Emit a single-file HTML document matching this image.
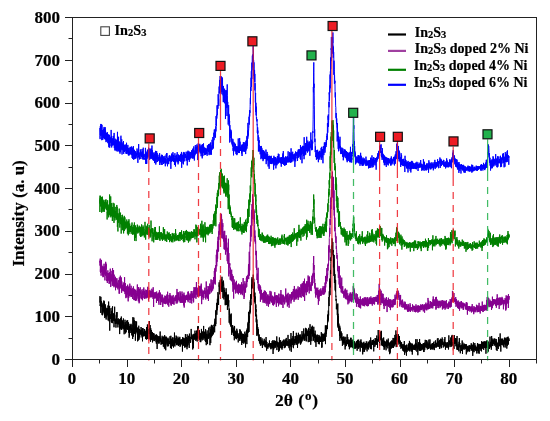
<!DOCTYPE html>
<html><head><meta charset="utf-8"><style>
html,body{margin:0;padding:0;background:#fff;width:550px;height:421px;overflow:hidden}
svg{display:block}
text{font-family:"Liberation Serif","Times New Roman",serif;font-weight:bold;fill:#000;stroke:#000;stroke-width:0.2px}
</style></head><body>
<svg width="550" height="421" viewBox="0 0 550 421">
<rect width="550" height="421" fill="#fff"/>
<g id="curves">
<path transform="matrix(0.10918 0 0 -0.21375 99.795 359.5)" d="M0 266l1 30 1 -4 1 -40 1 4 1 -6 1 24 1 -15 1 17 1 -58 1 75 1 -41 1 20 1 -20 1 -6 1 18 1 8 1 -24 1 0 1 18 1 -36 1 -21 1 48 1 -24 1 -26 1 21 1 7 1 -17 1 -7 1 33 1 18 1 -26 1 -12 1 24 1 7 1 -23 1 17 1 27 1 -44 1 -14 1 24 1 -3 1 33 1 -67 1 13 1 -5 1 -19 1 39 1 8 1 -28 1 45 1 -12 1 -5 1 -6 1 12 1 -49 1 40 1 0 1 -51 1 44 1 -13 1 21 1 -26 1 8 1 7 1 -26 1 31 1 -15 1 12 1 -22 1 33 1 -10 1 -17 1 16 1 13 1 10 1 -70 1 51 1 2 1 -24 1 -19 1 78 1 -84 1 51 1 1 1 -60 1 26 1 -21 1 31 1 26 1 10 1 -116 1 48 1 40 1 17 1 -24 1 -24 1 21 1 -7 1 -5 1 -11 1 23 1 -2 1 -9 1 -3 1 -22 1 16 1 33 1 -28 1 -26 1 56 1 -17 1 31 1 -41 1 -11 1 -20 1 55 1 24 1 -68 1 3 1 25 1 -29 1 11 1 -2 1 10 1 17 1 -21 1 17 1 -27 1 15 1 -49 1 13 1 43 1 -27 1 22 1 -1 1 46 1 -41 1 3 1 -22 1 -12 1 -1 1 4 1 -12 1 11 1 8 1 6 1 -12 1 -30 1 35 1 5 1 16 1 -10 1 -24 1 -2 1 52 1 -24 1 20 1 5 1 -56 1 22 1 1 1 2 1 -1 1 -7 1 -1 1 -32 1 25 1 -11 1 16 1 -11 1 20 1 3 1 -3 1 -7 1 -3 1 -12 1 5 1 -7 1 16 1 -7 1 10 1 -65 1 70 1 -31 1 -16 1 26 1 -7 1 15 1 -16 1 -9 1 3 1 40 1 -24 1 -23 1 22 1 -29 1 61 1 -61 1 36 1 1 1 -37 1 38 1 6 1 -10 1 -4 1 12 1 -15 1 3 1 -9 1 14 1 -29 1 31 1 -24 1 -11 1 26 1 24 1 -14 1 -27 1 22 1 -21 1 5 1 4 1 -43 1 44 1 -22 1 6 1 -14 1 -1 1 9 1 31 1 15 1 -30 1 19 1 -24 1 -29 1 36 1 4 1 -15 1 12 1 5 1 -26 1 -11 1 22 1 0 1 -3 1 23 1 13 1 -38 1 19 1 4 1 -4 1 5 1 -25 1 19 1 22 1 -21 1 -25 1 21 1 11 1 -16 1 -16 1 36 1 -48 1 29 1 -9 1 -20 1 41 1 -15 1 -50 1 53 1 -17 1 -26 1 21 1 16 1 6 1 -8 1 -3 1 7 1 -12 1 24 1 -18 1 2 1 4 1 -27 1 6 1 37 1 -20 1 -11 1 11 1 -14 1 12 1 -16 1 16 1 -32 1 49 1 -31 1 -18 1 22 1 -2 1 8 1 -45 1 49 1 53 1 -81 1 26 1 -11 1 8 1 -33 1 11 1 26 1 -8 1 60 1 -72 1 15 1 45 1 -61 1 -3 1 15 1 -1 1 15 1 -12 1 -15 1 16 1 39 1 3 1 -92 1 43 1 -12 1 37 1 -26 1 34 1 -16 1 -1 1 -12 1 -4 1 6 1 41 1 -38 1 -14 1 26 1 -18 1 -4 1 -12 1 3 1 -1 1 -35 1 61 1 -7 1 -13 1 20 1 -10 1 -1 1 -46 1 36 1 12 1 17 1 4 1 -7 1 -42 1 -16 1 44 1 -9 1 15 1 -18 1 5 1 -27 1 31 1 -15 1 13 1 1 1 -9 1 7 1 -6 1 12 1 -4 1 -17 1 -1 1 37 1 -29 1 17 1 -10 1 -15 1 -3 1 13 1 2 1 6 1 -30 1 10 1 8 1 26 1 -62 1 44 1 -16 1 15 1 -14 1 20 1 12 1 -19 1 1 1 -1 1 -18 1 20 1 -12 1 -9 1 11 1 -3 1 15 1 -12 1 -8 1 31 1 -8 1 5 1 -11 1 -11 1 -5 1 2 1 19 1 -13 1 -24 1 22 1 -21 1 24 1 -21 1 -1 1 21 1 -3 1 -24 1 51 1 8 1 -56 1 51 1 -39 1 4 1 5 1 -20 1 67 1 -36 1 -20 1 8 1 -19 1 18 1 21 1 -41 1 20 1 9 1 14 1 5 1 -28 1 -4 1 19 1 -12 1 1 1 22 1 39 1 -52 1 -7 1 12 1 -39 1 29 1 -16 1 54 1 -27 1 -7 1 -8 1 -36 1 49 1 14 1 -51 1 35 1 0 1 -35 1 37 1 6 1 -18 1 -5 1 12 1 -36 1 24 1 14 1 -35 1 33 1 -22 1 -25 1 29 1 -14 1 19 1 -23 1 32 1 -26 1 15 1 -14 1 3 1 22 1 -11 1 -13 1 -13 1 35 1 -7 1 -16 1 8 1 -18 1 0 1 2 1 16 1 -1 1 -15 1 21 1 0 1 -9 1 12 1 -19 1 3 1 8 1 -8 1 12 1 -29 1 37 1 -44 1 21 1 -17 1 28 1 9 1 -3 1 -4 1 -59 1 36 1 5 1 -7 1 28 1 -13 1 -3 1 7 1 -20 1 0 1 0 1 19 1 -2 1 3 1 7 1 -34 1 11 1 9 1 -20 1 11 1 21 1 1 1 -1 1 -14 1 -4 1 18 1 -20 1 9 1 35 1 -45 1 -3 1 8 1 8 1 -2 1 -4 1 5 1 -29 1 10 1 13 1 -15 1 -5 1 1 1 4 1 10 1 -12 1 17 1 19 1 -25 1 19 1 -13 1 -19 1 11 1 -10 1 23 1 -25 1 32 1 0 1 -44 1 37 1 10 1 -31 1 23 1 -37 1 27 1 -25 1 28 1 -30 1 -11 1 39 1 24 1 -37 1 18 1 -9 1 -6 1 21 1 4 1 -57 1 43 1 -3 1 -45 1 61 1 4 1 -38 1 35 1 -22 1 -3 1 22 1 -17 1 1 1 15 1 -3 1 -5 1 -29 1 -3 1 35 1 -27 1 14 1 -16 1 9 1 -11 1 37 1 -34 1 11 1 -1 1 18 1 -34 1 18 1 -2 1 9 1 -1 1 -12 1 9 1 -8 1 11 1 -7 1 -7 1 8 1 5 1 24 1 -35 1 10 1 15 1 -45 1 4 1 7 1 14 1 32 1 -26 1 10 1 -18 1 -28 1 2 1 42 1 -11 1 -18 1 30 1 -33 1 34 1 4 1 -29 1 -4 1 25 1 -25 1 38 1 -39 1 25 1 -9 1 -6 1 -6 1 14 1 -27 1 21 1 -2 1 14 1 -24 1 37 1 -30 1 -6 1 32 1 28 1 -48 1 -9 1 12 1 -20 1 16 1 23 1 -14 1 -1 1 0 1 -5 1 11 1 1 1 -16 1 6 1 30 1 -26 1 -7 1 28 1 -26 1 -14 1 23 1 -20 1 5 1 10 1 -5 1 -9 1 3 1 0 1 22 1 -24 1 2 1 33 1 -41 1 34 1 -2 1 -18 1 -17 1 24 1 3 1 4 1 -11 1 14 1 2 1 -31 1 32 1 -16 1 -9 1 3 1 28 1 -11 1 -36 1 24 1 -3 1 0 1 -4 1 -12 1 29 1 -23 1 8 1 -3 1 -2 1 19 1 -4 1 -14 1 -3 1 6 1 18 1 -10 1 5 1 -11 1 1 1 6 1 -49 1 67 1 -31 1 3 1 25 1 -14 1 -2 1 -8 1 -13 1 23 1 13 1 -27 1 29 1 -32 1 5 1 25 1 -15 1 9 1 -18 1 -4 1 -11 1 9 1 -15 1 12 1 23 1 -12 1 -18 1 59 1 -43 1 -6 1 33 1 -1 1 -30 1 -4 1 -10 1 45 1 -19 1 -7 1 11 1 16 1 -34 1 13 1 -35 1 70 1 -5 1 -11 1 -15 1 11 1 -37 1 32 1 -21 1 0 1 -3 1 11 1 18 1 13 1 -17 1 -16 1 22 1 -11 1 18 1 -28 1 -25 1 31 1 36 1 -23 1 -9 1 15 1 -5 1 -1 1 -13 1 8 1 2 1 -11 1 -6 1 17 1 11 1 -4 1 -2 1 0 1 43 1 -46 1 11 1 13 1 -26 1 3 1 11 1 9 1 -18 1 0 1 -3 1 -18 1 33 1 -19 1 -46 1 48 1 -22 1 10 1 15 1 -13 1 28 1 -60 1 50 1 4 1 13 1 -7 1 -9 1 -2 1 -2 1 18 1 -25 1 17 1 -8 1 5 1 -7 1 35 1 -39 1 13 1 1 1 6 1 -2 1 0 1 9 1 -36 1 23 1 -18 1 22 1 -20 1 4 1 14 1 22 1 -11 1 -4 1 17 1 -35 1 -17 1 26 1 3 1 23 1 14 1 -52 1 58 1 -13 1 -11 1 -8 1 32 1 -34 1 -11 1 10 1 -23 1 37 1 -18 1 6 1 0 1 -22 1 36 1 -36 1 29 1 -38 1 30 1 -19 1 14 1 -24 1 -11 1 15 1 18 1 8 1 -32 1 -10 1 19 1 9 1 -6 1 -3 1 24 1 19 1 -21 1 -25 1 15 1 -4 1 -19 1 34 1 -11 1 -9 1 28 1 -10 1 1 1 6 1 -8 1 -29 1 13 1 20 1 -26 1 12 1 5 1 42 1 -28 1 -6 1 -16 1 16 1 -6 1 -10 1 23 1 -13 1 -18 1 30 1 -23 1 13 1 -31 1 22 1 -14 1 0 1 -14 1 60 1 -34 1 6 1 13 1 -18 1 10 1 -52 1 47 1 -16 1 21 1 -5 1 -23 1 -7 1 13 1 39 1 -18 1 0 1 -36 1 -10 1 31 1 -1 1 2 1 14 1 -7 1 -15 1 4 1 16 1 -1 1 -2 1 36 1 -38 1 6 1 -17 1 10 1 14 1 1 1 -11 1 9 1 -5 1 -30 1 -21 1 87 1 -23 1 -13 1 -26 1 8 1 41 1 -64 1 39 1 19 1 -11 1 11 1 -14 1 41 1 -53 1 -5 1 27 1 19 1 -23 1 19 1 -25 1 -10 1 43 1 4 1 1 1 -31 1 -11 1 1 1 17 1 15 1 0 1 -32 1 30 1 -2 1 3 1 0 1 -1 1 15 1 -6 1 4 1 -14 1 21 1 -7 1 -34 1 50 1 -11 1 25 1 -18 1 4 1 9 1 -2 1 -5 1 -23 1 74 1 -64 1 28 1 23 1 -2 1 8 1 8 1 14 1 -16 1 36 1 -56 1 30 1 -8 1 0 1 22 1 31 1 -45 1 4 1 38 1 0 1 34 1 -14 1 -14 1 -9 1 17 1 -5 1 -35 1 48 1 0 1 2 1 -1 1 57 1 -21 1 10 1 -36 1 -8 1 22 1 17 1 -13 1 7 1 32 1 -15 1 -32 1 16 1 -5 1 29 1 -41 1 27 1 24 1 -18 1 -25 1 8 1 19 1 9 1 8 1 -27 1 -32 1 71 1 -31 1 1 1 -4 1 -37 1 17 1 13 1 18 1 -25 1 -52 1 38 1 13 1 22 1 -17 1 26 1 -11 1 -4 1 -12 1 -61 1 55 1 -8 1 -30 1 27 1 -6 1 -23 1 7 1 -4 1 11 1 -17 1 23 1 -62 1 39 1 -35 1 29 1 23 1 -12 1 -4 1 3 1 36 1 -66 1 47 1 -59 1 24 1 14 1 -26 1 24 1 11 1 -47 1 24 1 -9 1 -38 1 39 1 -17 1 47 1 -54 1 57 1 -54 1 53 1 -35 1 -5 1 4 1 -1 1 8 1 3 1 -49 1 -22 1 -34 1 45 1 21 1 -11 1 -9 1 -13 1 -9 1 4 1 10 1 -46 1 46 1 -46 1 22 1 -12 1 3 1 -16 1 -5 1 15 1 -19 1 63 1 -55 1 -21 1 14 1 -12 1 -26 1 37 1 8 1 -34 1 24 1 -22 1 17 1 6 1 10 1 -12 1 -21 1 26 1 -24 1 12 1 4 1 -17 1 -17 1 29 1 -29 1 3 1 -4 1 30 1 -17 1 -34 1 47 1 20 1 -5 1 -38 1 9 1 6 1 6 1 -14 1 -18 1 28 1 -3 1 -30 1 14 1 9 1 -4 1 8 1 3 1 -4 1 -10 1 -19 1 29 1 12 1 8 1 -31 1 0 1 22 1 0 1 -11 1 -1 1 -22 1 20 1 -21 1 10 1 0 1 -5 1 -25 1 19 1 17 1 -6 1 -5 1 12 1 4 1 2 1 -25 1 13 1 -6 1 -8 1 -9 1 21 1 -12 1 45 1 -34 1 -2 1 -2 1 33 1 -42 1 12 1 -9 1 9 1 1 1 16 1 -37 1 20 1 24 1 -32 1 5 1 -11 1 -25 1 36 1 18 1 -24 1 -20 1 30 1 -2 1 12 1 -1 1 -17 1 10 1 -32 1 42 1 -14 1 13 1 0 1 -19 1 2 1 -11 1 -17 1 28 1 5 1 -18 1 26 1 -9 1 6 1 -32 1 0 1 50 1 -15 1 -10 1 -4 1 -3 1 8 1 -5 1 -45 1 65 1 -33 1 18 1 1 1 10 1 -28 1 44 1 -7 1 3 1 9 1 -46 1 -20 1 56 1 17 1 0 1 -26 1 10 1 8 1 -32 1 21 1 3 1 40 1 -35 1 42 1 -24 1 -26 1 97 1 -78 1 33 1 25 1 -50 1 -24 1 76 1 -14 1 -20 1 8 1 19 1 34 1 -20 1 42 1 12 1 -2 1 11 1 3 1 -58 1 85 1 -26 1 -8 1 -12 1 -5 1 1 1 51 1 -22 1 15 1 12 1 39 1 -19 1 9 1 45 1 -39 1 29 1 -41 1 41 1 -4 1 4 1 -16 1 -15 1 19 1 -5 1 39 1 -6 1 -60 1 46 1 -34 1 35 1 -44 1 -40 1 67 1 -21 1 -49 1 -21 1 24 1 -23 1 13 1 16 1 13 1 -51 1 33 1 -13 1 -43 1 -37 1 51 1 -13 1 18 1 -15 1 -20 1 12 1 -61 1 19 1 -15 1 32 1 -27 1 -72 1 76 1 -46 1 25 1 -26 1 9 1 2 1 -11 1 -23 1 35 1 -19 1 -10 1 8 1 -22 1 34 1 -27 1 -1 1 -2 1 -21 1 -5 1 18 1 0 1 12 1 -14 1 -23 1 21 1 3 1 1 1 -11 1 -21 1 30 1 -26 1 16 1 -28 1 29 1 -21 1 24 1 8 1 -8 1 -31 1 3 1 0 1 19 1 -4 1 -3 1 2 1 3 1 0 1 13 1 -22 1 3 1 -26 1 7 1 7 1 -6 1 17 1 10 1 -18 1 -1 1 0 1 7 1 -8 1 12 1 -2 1 1 1 5 1 -9 1 1 1 20 1 -23 1 11 1 -10 1 -6 1 0 1 -5 1 10 1 -16 1 11 1 20 1 -17 1 15 1 -7 1 4 1 -27 1 18 1 30 1 -22 1 2 1 -10 1 8 1 -42 1 21 1 15 1 5 1 -15 1 2 1 -2 1 -1 1 -9 1 -3 1 16 1 -20 1 9 1 4 1 -5 1 15 1 -8 1 5 1 -12 1 3 1 15 1 -2 1 -10 1 10 1 -2 1 0 1 17 1 -24 1 9 1 0 1 -7 1 -11 1 21 1 -5 1 -2 1 -1 1 0 1 -11 1 18 1 -28 1 20 1 -17 1 13 1 13 1 -12 1 -2 1 11 1 -9 1 -8 1 7 1 22 1 -10 1 -2 1 -20 1 21 1 -22 1 20 1 -18 1 36 1 -65 1 56 1 -5 1 -30 1 18 1 19 1 -3 1 -33 1 13 1 -7 1 1 1 5 1 29 1 -20 1 -4 1 -2 1 12 1 0 1 -18 1 27 1 -29 1 9 1 8 1 15 1 -24 1 8 1 11 1 -7 1 5 1 -1 1 -9 1 5 1 3 1 -11 1 41 1 -64 1 13 1 27 1 -11 1 -13 1 12 1 8 1 -19 1 16 1 -11 1 -2 1 3 1 14 1 -26 1 9 1 12 1 -40 1 14 1 25 1 -7 1 -1 1 4 1 -14 1 46 1 -61 1 22 1 -12 1 12 1 23 1 -18 1 7 1 -12 1 27 1 -18 1 -18 1 24 1 -14 1 12 1 -4 1 0 1 -1 1 -13 1 -7 1 30 1 -13 1 5 1 -9 1 -19 1 9 1 33 1 -26 1 4 1 -12 1 11 1 2 1 2 1 2 1 -7 1 1 1 7 1 4 1 -6 1 23 1 -18 1 1 1 -12 1 21 1 -25 1 -7 1 8 1 19 1 -21 1 30 1 -16 1 -18 1 16 1 24 1 -32 1 -5 1 22 1 10 1 -4 1 -16 1 7 1 1 1 11 1 12 1 -28 1 18 1 -20 1 11 1 -18 1 2 1 15 1 -16 1 22 1 -18 1 8 1 -2 1 -3 1 6 1 12 1 25 1 -53 1 19 1 -10 1 -5 1 15 1 -14 1 10 1 17 1 -41 1 28 1 3 1 -17 1 18 1 -2 1 -8 1 20 1 -53 1 46 1 -11 1 -11 1 12 1 -2 1 15 1 -30 1 17 1 -11 1 57 1 -57 1 28 1 -59 1 50 1 -6 1 7 1 -14 1 -16 1 6 1 37 1 -14 1 -14 1 23 1 -21 1 0 1 -6 1 31 1 11 1 -38 1 16 1 9 1 36 1 -80 1 34 1 15 1 -36 1 25 1 -3 1 7 1 -17 1 14 1 -14 1 17 1 -6 1 -7 1 -14 1 41 1 -7 1 -3 1 -20 1 -3 1 34 1 -12 1 -21 1 12 1 2 1 -5 1 -9 1 48 1 -27 1 -11 1 -18 1 13 1 8 1 25 1 -29 1 20 1 -13 1 -12 1 -27 1 22 1 -4 1 18 1 7 1 15 1 -19 1 -16 1 48 1 -27 1 -8 1 0 1 -15 1 28 1 -3 1 17 1 -7 1 -3 1 6 1 -22 1 -2 1 4 1 -14 1 15 1 -2 1 14 1 -9 1 -27 1 27 1 20 1 -45 1 15 1 11 1 -18 1 11 1 9 1 -20 1 24 1 1 1 -23 1 18 1 33 1 -35 1 9 1 3 1 -12 1 18 1 -9 1 -19 1 22 1 5 1 -1 1 -20 1 16 1 13 1 -16 1 14 1 24 1 -41 1 10 1 -13 1 20 1 -17 1 -16 1 18 1 -1 1 7 1 2 1 -24 1 8 1 15 1 2 1 -5 1 38 1 -22 1 -17 1 12 1 9 1 -14 1 -31 1 28 1 0 1 32 1 -59 1 51 1 -28 1 20 1 -18 1 7 1 15 1 -15 1 15 1 -17 1 -4 1 3 1 -4 1 7 1 23 1 -60 1 14 1 26 1 27 1 -10 1 5 1 -1 1 -31 1 14 1 -43 1 21 1 30 1 -34 1 -7 1 12 1 24 1 37 1 0 1 -18 1 -46 1 -13 1 39 1 14 1 -72 1 47 1 1 1 7 1 -3 1 21 1 -3 1 -15 1 10 1 19 1 -65 1 -2 1 43 1 20 1 -27 1 36 1 -44 1 18 1 -24 1 20 1 -5 1 -1 1 15 1 -6 1 -25 1 21 1 -39 1 40 1 25 1 -33 1 -1 1 -8 1 11 1 -19 1 16 1 -15 1 -3 1 8 1 -3 1 -25 1 54 1 -28 1 -27 1 39 1 -17 1 3 1 7 1 -23 1 -30 1 40 1 4 1 10 1 -25 1 4 1 11 1 -10 1 0 1 7 1 -18 1 35 1 -34 1 13 1 -6 1 -5 1 17 1 6 1 6 1 -12 1 -14 1 17 1 -31 1 20 1 6 1 1 1 -23 1 -5 1 42 1 -35 1 -9 1 5 1 17 1 16 1 -16 1 16 1 -13 1 3 1 7 1 -18 1 9 1 -9 1 -4 1 18 1 -20 1 12 1 -11 1 9 1 -6 1 42 1 -33 1 0 1 22 1 -62 1 24 1 -22 1 38 1 6 1 4 1 -5 1 -16 1 37 1 -20 1 -7 1 -12 1 22 1 -12 1 1 1 10 1 1 1 -14 1 30 1 -31 1 -1 1 27 1 -8 1 0 1 -6 1 8 1 -8 1 -15 1 36 1 -25 1 13 1 16 1 -8 1 42 1 -88 1 38 1 14 1 22 1 -23 1 -17 1 44 1 -31 1 14 1 21 1 -23 1 6 1 20 1 -9 1 12 1 -18 1 19 1 -13 1 -5 1 67 1 -20 1 15 1 -31 1 23 1 3 1 -18 1 47 1 -38 1 36 1 -21 1 63 1 23 1 -20 1 -22 1 18 1 51 1 -27 1 23 1 7 1 -22 1 79 1 -77 1 64 1 2 1 -31 1 76 1 5 1 -3 1 -15 1 48 1 30 1 -17 1 56 1 -17 1 6 1 27 1 -57 1 11 1 39 1 5 1 36 1 -8 1 -29 1 2 1 -15 1 -4 1 -22 1 59 1 -48 1 -1 1 11 1 -27 1 3 1 -57 1 61 1 -29 1 6 1 -3 1 -75 1 98 1 -57 1 -8 1 -66 1 60 1 -16 1 -30 1 8 1 19 1 -53 1 -23 1 50 1 -36 1 -19 1 54 1 -53 1 -25 1 4 1 -23 1 8 1 -9 1 -39 1 17 1 6 1 -4 1 -2 1 -1 1 -17 1 0 1 -24 1 -3 1 50 1 -94 1 43 1 56 1 -108 1 60 1 -66 1 36 1 19 1 -6 1 -48 1 -10 1 -6 1 35 1 -22 1 4 1 1 1 0 1 -1 1 -9 1 -31 1 48 1 -71 1 62 1 -31 1 4 1 -7 1 1 1 3 1 -5 1 -14 1 27 1 -23 1 28 1 -24 1 -10 1 16 1 5 1 -27 1 4 1 27 1 -35 1 1 1 13 1 -20 1 -18 1 10 1 27 1 3 1 -1 1 -4 1 -23 1 26 1 5 1 -25 1 21 1 -18 1 11 1 -2 1 -25 1 38 1 -31 1 10 1 -6 1 12 1 -1 1 -5 1 17 1 -15 1 -9 1 -32 1 33 1 -1 1 -7 1 -13 1 31 1 5 1 11 1 -10 1 -24 1 12 1 -21 1 27 1 -5 1 -13 1 6 1 -2 1 -5 1 24 1 23 1 -29 1 3 1 -12 1 -6 1 31 1 -32 1 9 1 -6 1 8 1 -8 1 8 1 -23 1 14 1 18 1 -30 1 5 1 25 1 -12 1 8 1 -41 1 29 1 -17 1 -2 1 22 1 9 1 -33 1 5 1 6 1 6 1 -15 1 43 1 -20 1 -12 1 -2 1 35 1 -1 1 -34 1 10 1 11 1 -29 1 7 1 23 1 -25 1 3 1 -11 1 7 1 17 1 -18 1 -6 1 8 1 29 1 -19 1 -9 1 8 1 10 1 -10 1 -23 1 25 1 -6 1 12 1 -26 1 28 1 -18 1 -15 1 36 1 -22 1 11 1 -7 1 15 1 0 1 0 1 -4 1 -28 1 -1 1 22 1 -14 1 17 1 -3 1 -19 1 4 1 -1 1 3 1 8 1 10 1 8 1 -28 1 5 1 25 1 -8 1 -8 1 -30 1 16 1 13 1 -9 1 31 1 -23 1 2 1 -16 1 1 1 4 1 -9 1 14 1 7 1 -2 1 23 1 -42 1 19 1 0 1 16 1 -22 1 7 1 -14 1 15 1 -1 1 -12 1 2 1 5 1 7 1 -36 1 39 1 -14 1 26 1 -5 1 -22 1 -2 1 35 1 -21 1 -1 1 -11 1 3 1 11 1 6 1 -25 1 24 1 -11 1 -15 1 22 1 -16 1 14 1 -16 1 11 1 -45 1 45 1 -22 1 19 1 -31 1 29 1 9 1 4 1 1 1 -26 1 30 1 1 1 -33 1 5 1 3 1 5 1 3 1 -30 1 35 1 -13 1 -6 1 23 1 -20 1 22 1 -7 1 -10 1 17 1 -4 1 -15 1 -12 1 12 1 13 1 -13 1 27 1 -18 1 0 1 2 1 -14 1 7 1 -5 1 -19 1 7 1 29 1 -14 1 2 1 -13 1 10 1 16 1 -8 1 -7 1 24 1 -18 1 -3 1 17 1 -33 1 27 1 -19 1 4 1 1 1 10 1 1 1 1 1 -1 1 15 1 3 1 -1 1 1 1 -24 1 -8 1 20 1 -6 1 10 1 -32 1 54 1 -47 1 16 1 12 1 -29 1 2 1 -9 1 7 1 -6 1 25 1 3 1 -7 1 19 1 2 1 -17 1 -2 1 -1 1 -2 1 22 1 -13 1 -7 1 2 1 17 1 -19 1 9 1 -4 1 17 1 -2 1 -53 1 37 1 11 1 -15 1 16 1 -6 1 4 1 -8 1 4 1 3 1 -25 1 8 1 -2 1 35 1 -18 1 1 1 1 1 -12 1 -2 1 20 1 -21 1 31 1 -17 1 -1 1 -4 1 2 1 3 1 19 1 10 1 -44 1 19 1 6 1 -21 1 4 1 3 1 -25 1 41 1 -8 1 0 1 3 1 3 1 45 1 -42 1 7 1 -18 1 13 1 -9 1 3 1 -9 1 1 1 19 1 5 1 -4 1 -15 1 14 1 -39 1 49 1 -13 1 4 1 13 1 -22 1 36 1 -37 1 14 1 -14 1 10 1 16 1 -31 1 0 1 4 1 8 1 33 1 -47 1 -21 1 18 1 -13 1 13 1 7 1 -14 1 3 1 -17 1 26 1 -13 1 23 1 -1 1 -26 1 6 1 5 1 8 1 -32 1 20 1 24 1 -25 1 7 1 -7 1 -33 1 43 1 -9 1 -1 1 6 1 0 1 -33 1 29 1 -13 1 8 1 -11 1 -2 1 22 1 -12 1 -3 1 -1 1 4 1 -1 1 -28 1 18 1 7 1 11 1 8 1 -28 1 34 1 -22 1 5 1 -13 1 0 1 23 1 -19 1 1 1 15 1 6 1 -37 1 15 1 2 1 21 1 8 1 -30 1 5 1 6 1 3 1 -17 1 13 1 -18 1 -23 1 15 1 19 1 6 1 -35 1 -17 1 43 1 -39 1 45 1 6 1 -47 1 44 1 -12 1 19 1 -13 1 -6 1 4 1 9 1 -8 1 -2 1 -17 1 22 1 -5 1 21 1 -22 1 0 1 -13 1 22 1 -11 1 -5 1 26 1 2 1 -25 1 -7 1 25 1 -22 1 42 1 -34 1 13 1 -26 1 15 1 14 1 -8 1 -16 1 41 1 -20 1 -10 1 -4 1 4 1 21 1 -25 1 11 1 -10 1 48 1 -38 1 14 1 9 1 -24 1 18 1 4 1 -26 1 26 1 38 1 -48 1 14 1 -44 1 45 1 -13 1 20 1 -8 1 -17 1 34 1 -18 1 -11 1 15 1 -14 1 19 1 -7 1 -5 1 14 1 -29 1 31 1 -44 1 49 1 -21 1 -8 1 -8 1 15 1 -11 1 -2 1 14 1 -20 1 1 1 6 1 25 1 -35 1 3 1 -3 1 7 1 8 1 -30 1 8 1 0 1 7 1 10 1 -19 1 2 1 10 1 -28 1 5 1 3 1 5 1 2 1 -9 1 25 1 -27 1 5 1 14 1 -4 1 -9 1 4 1 5 1 -9 1 7 1 -18 1 11 1 -19 1 8 1 -3 1 26 1 -18 1 8 1 -24 1 18 1 -1 1 -6 1 18 1 -27 1 25 1 21 1 -37 1 9 1 -36 1 35 1 -18 1 25 1 -12 1 -15 1 6 1 -3 1 14 1 12 1 -17 1 -5 1 4 1 10 1 -28 1 33 1 -2 1 -43 1 51 1 -30 1 15 1 15 1 -30 1 -3 1 8 1 0 1 10 1 -4 1 1 1 0 1 3 1 -7 1 12 1 -3 1 -11 1 30 1 -33 1 22 1 -16 1 12 1 2 1 3 1 6 1 -24 1 40 1 -27 1 -22 1 3 1 40 1 -7 1 -18 1 8 1 6 1 -13 1 -5 1 4 1 21 1 -20 1 -14 1 32 1 -37 1 10 1 22 1 -11 1 4 1 -5 1 10 1 -12 1 -20 1 23 1 -36 1 11 1 40 1 -6 1 -16 1 4 1 2 1 10 1 -20 1 -1 1 3 1 8 1 2 1 -7 1 12 1 -19 1 10 1 -7 1 -3 1 24 1 -16 1 -8 1 12 1 -12 1 18 1 2 1 2 1 -22 1 10 1 21 1 -22 1 16 1 24 1 -53 1 29 1 -5 1 1 1 9 1 -13 1 -5 1 6 1 -10 1 9 1 -27 1 59 1 -43 1 12 1 -3 1 -2 1 0 1 0 1 -39 1 32 1 19 1 -24 1 0 1 34 1 -10 1 4 1 -17 1 3 1 6 1 -2 1 -8 1 -15 1 8 1 -8 1 54 1 -42 1 3 1 5 1 -3 1 5 1 -12 1 -10 1 36 1 -27 1 2 1 -13 1 13 1 6 1 8 1 -20 1 15 1 -10 1 20 1 -26 1 14 1 7 1 -23 1 16 1 3 1 -12 1 6 1 13 1 -8 1 -12 1 7 1 8 1 9 1 -5 1 -1 1 9 1 -34 1 1 1 -9 1 35 1 -35 1 25 1 9 1 -24 1 8 1 2 1 24 1 -35 1 21 1 4 1 -6 1 0 1 29 1 -28 1 -3 1 -3 1 11 1 -10 1 10 1 -6 1 12 1 -21 1 9 1 4 1 0 1 24 1 -24 1 6 1 12 1 -1 1 -33 1 -4 1 24 1 -12 1 8 1 -7 1 19 1 -1 1 -27 1 16 1 -6 1 -11 1 22 1 -9 1 7 1 23 1 -13 1 -2 1 -17 1 -9 1 28 1 -18 1 4 1 -4 1 5 1 27 1 -31 1 0 1 6 1 1 1 -17 1 -7 1 14 1 4 1 -6 1 -3 1 1 1 7 1 3 1 -18 1 13 1 11 1 -6 1 -14 1 12 1 4 1 9 1 -28 1 27 1 -13 1 8 1 5 1 -30 1 13 1 8 1 10 1 -15 1 -10 1 9 1 12 1 10 1 -20 1 2 1 2 1 1 1 -24 1 20 1 8 1 -1 1 -1 1 -12 1 5 1 -2 1 21 1 5 1 -13 1 15 1 -23 1 0 1 -11 1 18 1 -8 1 6 1 5 1 -9 1 -10 1 13 1 0 1 1 1 8 1 -11 1 0 1 23 1 7 1 -30 1 -8 1 6 1 10 1 5 1 19 1 -32 1 5 1 -6 1 6 1 -6 1 -8 1 25 1 -11 1 14 1 -21 1 9 1 5 1 -30 1 7 1 35 1 -18 1 -23 1 13 1 -4 1 7 1 24 1 -25 1 31 1 -27 1 -6 1 28 1 -8 1 6 1 6 1 -10 1 2 1 -35 1 11 1 15 1 -3 1 6 1 -14 1 35 1 -5 1 -17 1 3 1 -4 1 5 1 -5 1 -12 1 9 1 -1 1 -20 1 21 1 -2 1 2 1 -9 1 12 1 2 1 -16 1 12 1 18 1 -13 1 -20 1 -1 1 13 1 -13 1 43 1 -40 1 0 1 17 1 -13 1 -23 1 26 1 -10 1 6 1 -13 1 8 1 9 1 1 1 -13 1 5 1 -2 1 12 1 -3 1 -13 1 22 1 -27 1 24 1 -16 1 15 1 -5 1 2 1 6 1 -1 1 -4 1 0 1 -17 1 15 1 -26 1 0 1 23 1 1 1 42 1 -31 1 5 1 -17 1 10 1 9 1 -8 1 -2 1 -3 1 -12 1 1 1 -7 1 23 1 -8 1 -5 1 13 1 -11 1 21 1 11 1 -18 1 -14 1 -9 1 44 1 -19 1 -20 1 45 1 -50 1 15 1 0 1 2 1 -9 1 46 1 -36 1 11 1 -4 1 -21 1 14 1 10 1 9 1 -16 1 9 1 -9 1 12 1 -40 1 40 1 -16 1 0 1 -29 1 22 1 21 1 22 1 -40 1 0 1 14 1 -3 1 -12 1 5 1 -3 1 11 1 2 1 11 1 -11 1 -4 1 -5 1 20 1 -37 1 37 1 -23 1 13 1 -27 1 21 1 -8 1 -7 1 -7 1 -15 1 64 1 -28 1 -13 1 0 1 -21 1 -3 1 0 1 13 1 5 1 -12 1 22 1 -3 1 -2 1 -24 1 14 1 5 1 -14 1 -11 1 45 1 -14 1 -12 1 43 1 -26 1 -2 1 -9 1 6 1 8 1 -16 1 -3 1 9 1 -38 1 32 1 -6 1 4 1 -2 1 6 1 -3 1 0 1 -3 1 7 1 -11 1 16 1 -29 1 20 1 3 1 -19 1 9 1 36 1 -33 1 -8 1 -22 1 35 1 -3 1 6 1 15 1 -22 1 3 1 -10 1 6 1 0 1 9 1 -2 1 -15 1 3 1 20 1 -25 1 18 1 10 1 -11 1 -4 1 12 1 -11 1 -4 1 -2 1 14 1 -5 1 9 1 -20 1 1 1 -2 1 8 1 -11 1 17 1 -6 1 -14 1 -21 1 12 1 35 1 -16 1 4 1 -8 1 13 1 -29 1 -1 1 4 1 18 1 7 1 -3 1 -6 1 -12 1 21 1 -11 1 3 1 -1 1 -10 1 3 1 2 1 -8 1 16 1 -4 1 12 1 -29 1 31 1 -13 1 -1 1 -7 1 0 1 -7 1 25 1 -12 1 10 1 1 1 -14 1 3 1 -1 1 14 1 -9 1 0 1 6 1 -8 1 22 1 -31 1 22 1 2 1 -27 1 21 1 -6 1 6 1 -21 1 15 1 -13 1 7 1 18 1 -16 1 -36 1 23 1 2 1 23 1 -18 1 -9 1 42 1 -23 1 1 1 -12 1 23 1 -16 1 -19 1 8 1 3 1 7 1 10 1 -16 1 2 1 29 1 -22 1 -6 1 5 1 -13 1 19 1 4 1 -16 1 17 1 -14 1 6 1 -10 1 -1 1 -7 1 18 1 -5 1 -3 1 -6 1 -15 1 20 1 12 1 -2 1 -18 1 19 1 15 1 -17 1 20 1 -16 1 9 1 -26 1 25 1 -40 1 30 1 -6 1 -17 1 7 1 26 1 -6 1 9 1 -12 1 -33 1 34 1 -9 1 1 1 1 1 -3 1 -2 1 24 1 -9 1 -11 1 2 1 16 1 -7 1 1 1 -18 1 9 1 -8 1 -8 1 31 1 -13 1 -1 1 -19 1 33 1 15 1 -17 1 4 1 -24 1 16 1 1 1 15 1 -17 1 -11 1 11 1 -10 1 27 1 1 1 -13 1 -2 1 8 1 -15 1 -5 1 -10 1 35 1 -8 1 11 1 -16 1 19 1 -30 1 25 1 -23 1 5 1 -9 1 16 1 -5 1 9 1 -12 1 -10 1 24 1 8 1 -6 1 -9 1 5 1 -47 1 39 1 18 1 -8 1 -16 1 21 1 -12 1 20 1 -35 1 11 1 10 1 0 1 10 1 -14 1 -2 1 8 1 5 1 -29 1 15 1 1 1 5 1 10 1 -47 1 41 1 -27 1 12 1 3 1 3 1 -4 1 1 1 2 1 1 1 -19 1 6 1 5 1 18 1 6 1 22 1 -33 1 -11 1 12 1 6 1 -6 1 -15 1 12 1 1 1 -17 1 3 1 29 1 -42 1 29 1 -5 1 40 1 -29 1 -18 1 26 1 -22 1 31 1 -4 1 -21 1 10 1 -7 1 -13 1 24 1 -8 1 5 1 3 1 4 1 -4 1 -15 1 3 1 10 1 -12 1 -1 1 25 1 -17 1 18 1 -33 1 9 1 -5 1 1 1 1 1 0 1 -1 1 27 1 -14 1 -17 1 2 1 16 1 -2 1 -14 1 18 1 -28 1 11 1 27 1 -52 1 29 1 14 1 -13 1 -8 1 -1 1 -15 1 -10 1 36 1 -7 1 7 1 -2 1 5 1 -23 1 16 1 0 1 0 1 -7 1 -16 1 44 1 -7 1 19 1 -20 1 11 1 -12 1 -12 1 11 1 -21 1 18 1 -5 1 -11 1 28 1 -1 1 -8 1 4 1 35 1 -48 1 -13 1 5 1 20 1 -6 1 -43 1 57 1 -13 1 17 1 -6 1 -19 1 7 1 -10 1 -2 1 7 1 10 1 11 1 -28 1 20 1 -8 1 -3 1 17 1 -18 1 22 1 -22 1 -7 1 22 1 -28 1 3 1 13 1 3 1 -4 1 -21 1 8 1 24 1 0 1 -19 1 16 1 0 1 10 1 -22 1 28 1 -22 1 22 1 -6 1 -40 1 24 1 8 1 10 1 -31 1 11 1 15 1 -2 1 -19 1 2 1 17 1 -19 1 17 1 9 1 -12 1 -35 1 50 1 0 1 4 1 -8 1 -33 1 41 1 -14 1 8 1 -15 1 -1 1 0 1 24 1 -17 1 -6 1 -14 1 23 1 -6 1 1 1 11 1 -3 1 -9 1 2" fill="none" stroke="#000000" stroke-width="1" vector-effect="non-scaling-stroke" stroke-linejoin="round"/>
<path transform="matrix(0.10918 0 0 -0.21375 99.795 359.5)" d="M0 439l1 23 1 -8 1 -1 1 19 1 -62 1 12 1 -16 1 25 1 24 1 -23 1 10 1 -50 1 41 1 -23 1 56 1 -19 1 0 1 -22 1 14 1 0 1 -22 1 -4 1 7 1 -11 1 -15 1 20 1 -10 1 31 1 -50 1 50 1 -31 1 1 1 -18 1 25 1 -3 1 8 1 -15 1 14 1 32 1 -29 1 -21 1 31 1 -23 1 29 1 -15 1 -21 1 -29 1 29 1 17 1 -19 1 16 1 10 1 -31 1 65 1 -23 1 15 1 -25 1 -2 1 23 1 -42 1 -4 1 11 1 -30 1 -13 1 12 1 25 1 1 1 -40 1 -7 1 30 1 2 1 3 1 13 1 11 1 -20 1 7 1 -34 1 -2 1 27 1 8 1 1 1 -3 1 3 1 0 1 -50 1 19 1 23 1 2 1 -41 1 51 1 -41 1 8 1 14 1 9 1 -42 1 69 1 -39 1 -19 1 9 1 -37 1 29 1 16 1 -18 1 7 1 3 1 3 1 18 1 -20 1 -11 1 21 1 28 1 -46 1 16 1 -40 1 55 1 -14 1 42 1 -56 1 -19 1 36 1 -3 1 -31 1 -11 1 35 1 -12 1 51 1 -60 1 1 1 8 1 -29 1 13 1 46 1 -32 1 -10 1 -12 1 33 1 1 1 -8 1 -12 1 13 1 9 1 -28 1 36 1 -63 1 15 1 17 1 3 1 -19 1 26 1 13 1 -11 1 -5 1 10 1 -8 1 -27 1 16 1 26 1 -44 1 21 1 -8 1 -9 1 -3 1 19 1 4 1 -1 1 -31 1 20 1 11 1 10 1 -5 1 2 1 4 1 -5 1 -29 1 15 1 -14 1 -29 1 12 1 64 1 -55 1 -20 1 28 1 36 1 -27 1 7 1 -12 1 3 1 48 1 -34 1 -15 1 16 1 2 1 -26 1 12 1 -1 1 -16 1 54 1 -46 1 -8 1 -18 1 6 1 47 1 -45 1 25 1 -13 1 14 1 1 1 -23 1 7 1 6 1 0 1 -3 1 -5 1 15 1 11 1 -13 1 -21 1 18 1 -6 1 6 1 22 1 -34 1 3 1 -14 1 9 1 -5 1 65 1 -52 1 -14 1 39 1 -52 1 51 1 -15 1 -7 1 -14 1 2 1 -4 1 18 1 -50 1 28 1 10 1 -11 1 -20 1 24 1 -8 1 24 1 9 1 -21 1 -32 1 27 1 -12 1 25 1 15 1 -21 1 26 1 -9 1 -12 1 -25 1 17 1 -49 1 62 1 -14 1 19 1 -17 1 -34 1 40 1 4 1 11 1 -41 1 1 1 15 1 -17 1 -5 1 4 1 55 1 -49 1 -6 1 9 1 6 1 19 1 -5 1 -3 1 -11 1 2 1 -12 1 -13 1 53 1 -44 1 28 1 -20 1 3 1 -1 1 -18 1 19 1 7 1 6 1 -5 1 8 1 -11 1 -5 1 -29 1 21 1 31 1 -21 1 10 1 -15 1 -7 1 40 1 -25 1 17 1 -15 1 -12 1 -29 1 35 1 -25 1 -10 1 51 1 -7 1 -2 1 -6 1 -4 1 7 1 -4 1 1 1 7 1 -47 1 49 1 -22 1 22 1 4 1 -30 1 24 1 0 1 -22 1 2 1 10 1 -35 1 26 1 9 1 -9 1 -17 1 17 1 28 1 21 1 -45 1 -10 1 11 1 1 1 -10 1 5 1 14 1 4 1 -49 1 67 1 -30 1 15 1 -17 1 6 1 18 1 -68 1 67 1 -21 1 -29 1 -12 1 43 1 -20 1 30 1 -12 1 -5 1 34 1 -29 1 8 1 1 1 -8 1 7 1 0 1 -31 1 15 1 2 1 -3 1 -18 1 5 1 23 1 -2 1 19 1 -31 1 2 1 -2 1 4 1 -4 1 -19 1 32 1 9 1 2 1 -32 1 13 1 29 1 -28 1 7 1 -8 1 17 1 -1 1 20 1 -18 1 -9 1 -24 1 11 1 -4 1 5 1 -14 1 36 1 -32 1 19 1 -22 1 23 1 19 1 -36 1 17 1 -6 1 5 1 2 1 -15 1 7 1 -6 1 -3 1 -6 1 32 1 -25 1 32 1 -13 1 -22 1 30 1 -28 1 22 1 13 1 -32 1 -3 1 0 1 48 1 -39 1 -12 1 30 1 -14 1 3 1 -14 1 -18 1 22 1 -4 1 -8 1 8 1 2 1 27 1 -2 1 -2 1 -16 1 -11 1 29 1 -3 1 8 1 -15 1 -2 1 6 1 -18 1 1 1 21 1 -28 1 17 1 12 1 -8 1 2 1 -23 1 14 1 -3 1 12 1 4 1 -13 1 26 1 -20 1 -12 1 -6 1 8 1 -8 1 31 1 -6 1 -28 1 0 1 -6 1 6 1 48 1 -29 1 -13 1 3 1 -53 1 60 1 -13 1 21 1 -22 1 -4 1 9 1 -12 1 27 1 -15 1 1 1 0 1 -10 1 11 1 -4 1 21 1 -23 1 4 1 -11 1 1 1 0 1 22 1 -17 1 12 1 -16 1 -2 1 -21 1 37 1 16 1 -31 1 23 1 -8 1 -21 1 19 1 -22 1 8 1 20 1 -14 1 -18 1 34 1 -33 1 12 1 -3 1 3 1 -10 1 -10 1 46 1 -37 1 1 1 -21 1 33 1 16 1 1 1 18 1 -17 1 -14 1 -3 1 16 1 -19 1 3 1 -15 1 13 1 25 1 -27 1 6 1 -37 1 49 1 -13 1 13 1 -15 1 -14 1 -7 1 24 1 -7 1 -13 1 12 1 -7 1 17 1 -15 1 -11 1 15 1 -7 1 27 1 -33 1 -24 1 36 1 -3 1 11 1 -5 1 -16 1 11 1 0 1 -14 1 8 1 10 1 -23 1 6 1 8 1 4 1 8 1 -24 1 21 1 4 1 11 1 -25 1 -6 1 -8 1 26 1 10 1 -37 1 26 1 5 1 1 1 -17 1 22 1 -19 1 -10 1 16 1 1 1 -17 1 18 1 19 1 -44 1 28 1 3 1 -11 1 3 1 -7 1 41 1 -50 1 10 1 -23 1 29 1 0 1 -26 1 10 1 17 1 -12 1 -9 1 -16 1 35 1 20 1 -30 1 11 1 0 1 -7 1 3 1 0 1 -13 1 43 1 2 1 -30 1 19 1 -33 1 3 1 22 1 -29 1 -2 1 21 1 -29 1 46 1 -12 1 -6 1 5 1 -33 1 13 1 23 1 1 1 -10 1 -2 1 -6 1 24 1 -36 1 8 1 4 1 -12 1 2 1 4 1 26 1 10 1 -18 1 -25 1 13 1 6 1 -2 1 -1 1 12 1 -31 1 17 1 10 1 7 1 -6 1 -3 1 -2 1 -6 1 9 1 -3 1 -6 1 24 1 0 1 -20 1 23 1 -2 1 -12 1 -2 1 5 1 -27 1 3 1 25 1 -3 1 14 1 -24 1 21 1 -1 1 33 1 -68 1 18 1 8 1 0 1 -16 1 5 1 -9 1 47 1 -31 1 1 1 -8 1 10 1 22 1 -28 1 4 1 29 1 -16 1 -9 1 -9 1 6 1 -10 1 14 1 -13 1 0 1 4 1 -9 1 17 1 30 1 -41 1 -13 1 34 1 -15 1 28 1 -21 1 8 1 -23 1 -10 1 18 1 11 1 -20 1 -9 1 13 1 2 1 1 1 3 1 33 1 -31 1 -7 1 -8 1 25 1 -31 1 40 1 -19 1 -20 1 22 1 -4 1 18 1 -36 1 23 1 -3 1 12 1 -46 1 24 1 36 1 -18 1 -52 1 49 1 -15 1 1 1 -7 1 30 1 -20 1 9 1 -1 1 -21 1 10 1 20 1 -31 1 24 1 -4 1 10 1 0 1 2 1 -10 1 3 1 -13 1 2 1 20 1 -20 1 22 1 -1 1 -24 1 19 1 -19 1 16 1 -15 1 15 1 -2 1 -16 1 41 1 -14 1 -35 1 27 1 -11 1 34 1 -30 1 8 1 -8 1 21 1 -26 1 -4 1 5 1 1 1 15 1 -8 1 -7 1 1 1 -7 1 14 1 -29 1 25 1 19 1 -21 1 -4 1 10 1 -13 1 2 1 20 1 -18 1 36 1 -20 1 -8 1 -7 1 5 1 -28 1 35 1 23 1 -9 1 -23 1 15 1 0 1 -10 1 7 1 9 1 0 1 -19 1 6 1 2 1 -24 1 24 1 -3 1 -28 1 6 1 50 1 -24 1 40 1 -46 1 27 1 -13 1 -17 1 14 1 19 1 12 1 -26 1 -14 1 -5 1 23 1 25 1 -32 1 -3 1 14 1 -4 1 -1 1 -28 1 19 1 33 1 -28 1 54 1 -46 1 -10 1 9 1 6 1 -19 1 15 1 -10 1 29 1 -28 1 9 1 -24 1 3 1 20 1 -12 1 9 1 9 1 5 1 -30 1 19 1 13 1 -20 1 -10 1 10 1 35 1 -25 1 24 1 -29 1 23 1 -41 1 18 1 5 1 25 1 -20 1 10 1 -24 1 0 1 25 1 2 1 -4 1 0 1 -36 1 49 1 -30 1 39 1 -31 1 -38 1 -3 1 -24 1 52 1 17 1 -21 1 16 1 -31 1 9 1 -4 1 13 1 -17 1 15 1 10 1 -15 1 -23 1 23 1 -12 1 3 1 27 1 -7 1 -26 1 17 1 11 1 5 1 -2 1 5 1 -15 1 0 1 -3 1 20 1 -4 1 14 1 -9 1 -29 1 -10 1 2 1 7 1 23 1 -30 1 -9 1 27 1 15 1 0 1 42 1 -54 1 -8 1 -1 1 -10 1 -2 1 42 1 12 1 -12 1 -14 1 -8 1 7 1 -32 1 38 1 3 1 -13 1 2 1 -26 1 38 1 1 1 -54 1 33 1 15 1 21 1 -39 1 13 1 24 1 -15 1 -10 1 -3 1 7 1 -12 1 47 1 -47 1 23 1 6 1 5 1 -16 1 -1 1 6 1 -3 1 17 1 -18 1 33 1 15 1 -55 1 18 1 -24 1 32 1 -5 1 -9 1 -13 1 19 1 34 1 -5 1 -20 1 -15 1 11 1 -12 1 -8 1 9 1 28 1 -3 1 -1 1 -21 1 -3 1 45 1 -23 1 30 1 -32 1 34 1 -11 1 -19 1 11 1 47 1 -15 1 -20 1 11 1 -30 1 67 1 -2 1 -33 1 33 1 -74 1 80 1 -6 1 0 1 16 1 1 1 -31 1 10 1 16 1 53 1 -39 1 -11 1 28 1 -32 1 76 1 -30 1 -25 1 33 1 27 1 -7 1 36 1 -74 1 81 1 -35 1 29 1 27 1 -70 1 0 1 32 1 -28 1 1 1 56 1 35 1 -40 1 32 1 41 1 -36 1 -13 1 8 1 36 1 -31 1 31 1 -10 1 24 1 -20 1 -4 1 -23 1 -11 1 34 1 -2 1 21 1 -10 1 -9 1 64 1 -44 1 26 1 -66 1 81 1 -19 1 -23 1 -68 1 87 1 -59 1 -27 1 -4 1 46 1 -19 1 35 1 -7 1 17 1 -32 1 -10 1 -6 1 -25 1 -4 1 0 1 24 1 -33 1 18 1 30 1 -81 1 -3 1 20 1 24 1 -42 1 20 1 64 1 -87 1 32 1 6 1 -15 1 -26 1 57 1 -78 1 23 1 18 1 -12 1 45 1 -52 1 68 1 -54 1 41 1 -31 1 -19 1 -3 1 32 1 -42 1 7 1 -45 1 -7 1 63 1 -1 1 -48 1 39 1 -21 1 -44 1 21 1 35 1 6 1 -19 1 74 1 -83 1 -29 1 -64 1 109 1 -50 1 -1 1 -14 1 -3 1 6 1 15 1 -2 1 -8 1 9 1 -34 1 -15 1 17 1 -45 1 57 1 -10 1 -3 1 -36 1 9 1 7 1 -23 1 -5 1 15 1 4 1 -18 1 30 1 20 1 -34 1 -16 1 -5 1 34 1 -27 1 4 1 -9 1 -16 1 36 1 -34 1 6 1 -42 1 74 1 -26 1 -16 1 -14 1 2 1 -52 1 69 1 -25 1 22 1 -1 1 24 1 -30 1 1 1 3 1 -20 1 6 1 15 1 7 1 -8 1 -17 1 24 1 -27 1 -19 1 51 1 -26 1 -8 1 -13 1 12 1 35 1 -29 1 37 1 -36 1 18 1 -18 1 -9 1 1 1 2 1 -15 1 -1 1 26 1 14 1 -18 1 -2 1 -15 1 33 1 -2 1 -35 1 19 1 -11 1 -14 1 50 1 -7 1 -14 1 17 1 -30 1 12 1 17 1 -26 1 9 1 -20 1 26 1 8 1 -34 1 3 1 11 1 24 1 -39 1 3 1 11 1 20 1 -42 1 21 1 24 1 -21 1 -4 1 18 1 -33 1 52 1 -25 1 -14 1 8 1 -2 1 -4 1 -15 1 16 1 -24 1 50 1 -40 1 7 1 -1 1 24 1 -14 1 54 1 -58 1 10 1 -3 1 -4 1 24 1 2 1 2 1 -71 1 56 1 -23 1 -23 1 12 1 15 1 26 1 14 1 6 1 -43 1 6 1 15 1 -1 1 2 1 -32 1 28 1 14 1 -4 1 -5 1 -10 1 13 1 31 1 -7 1 1 1 13 1 -47 1 34 1 -1 1 18 1 -26 1 3 1 -5 1 19 1 -5 1 6 1 13 1 -10 1 -7 1 15 1 2 1 25 1 22 1 -28 1 -39 1 71 1 -7 1 -14 1 23 1 55 1 -112 1 57 1 34 1 -66 1 73 1 44 1 -1 1 15 1 -19 1 14 1 63 1 -33 1 54 1 -75 1 52 1 13 1 8 1 -50 1 49 1 66 1 1 1 -50 1 59 1 -74 1 101 1 -21 1 -24 1 -8 1 -16 1 50 1 65 1 -26 1 -14 1 17 1 -75 1 59 1 -77 1 37 1 -5 1 7 1 -10 1 17 1 -46 1 39 1 -44 1 24 1 -33 1 12 1 -22 1 -64 1 35 1 -52 1 27 1 -1 1 -28 1 -8 1 20 1 -4 1 -5 1 -60 1 -5 1 20 1 -7 1 -72 1 79 1 -27 1 -62 1 46 1 -42 1 0 1 -51 1 23 1 3 1 4 1 -29 1 15 1 -17 1 -15 1 2 1 1 1 70 1 -96 1 2 1 18 1 -11 1 -12 1 22 1 -30 1 17 1 13 1 -9 1 -16 1 3 1 0 1 5 1 -26 1 33 1 -10 1 15 1 -17 1 1 1 -61 1 36 1 34 1 -24 1 -13 1 16 1 -10 1 3 1 -31 1 31 1 14 1 -20 1 3 1 -18 1 17 1 -14 1 -14 1 13 1 -3 1 15 1 5 1 -17 1 -2 1 13 1 -38 1 24 1 0 1 1 1 -6 1 30 1 -10 1 -16 1 -17 1 12 1 14 1 -34 1 59 1 -35 1 0 1 9 1 -28 1 20 1 -1 1 9 1 -23 1 21 1 26 1 -31 1 -11 1 -4 1 -13 1 16 1 14 1 13 1 9 1 -14 1 -22 1 1 1 -15 1 11 1 -24 1 29 1 12 1 -10 1 -3 1 13 1 10 1 -5 1 -36 1 44 1 -29 1 -13 1 14 1 18 1 -48 1 51 1 -14 1 4 1 -24 1 10 1 -8 1 30 1 -25 1 14 1 -13 1 -13 1 32 1 4 1 26 1 -48 1 7 1 8 1 0 1 -6 1 27 1 -35 1 16 1 -18 1 46 1 -42 1 -10 1 22 1 -9 1 -5 1 2 1 -5 1 14 1 -3 1 17 1 -30 1 27 1 -11 1 -25 1 37 1 -42 1 29 1 -30 1 27 1 -8 1 1 1 -21 1 15 1 24 1 -7 1 -8 1 -1 1 -7 1 26 1 -18 1 14 1 -32 1 -1 1 57 1 -49 1 9 1 8 1 6 1 6 1 -11 1 14 1 -17 1 8 1 -11 1 1 1 22 1 -27 1 -28 1 32 1 2 1 20 1 -27 1 -10 1 16 1 22 1 -28 1 20 1 -9 1 12 1 -29 1 11 1 -11 1 10 1 -8 1 22 1 -20 1 3 1 -25 1 16 1 43 1 -36 1 -15 1 20 1 -3 1 -3 1 3 1 -2 1 17 1 -26 1 18 1 8 1 -22 1 40 1 -28 1 -2 1 -6 1 18 1 -31 1 28 1 39 1 -42 1 7 1 -22 1 22 1 -32 1 16 1 6 1 25 1 -32 1 -17 1 27 1 8 1 -1 1 -6 1 15 1 -6 1 0 1 -16 1 -36 1 62 1 -32 1 28 1 -1 1 -30 1 7 1 14 1 7 1 -25 1 9 1 -9 1 -3 1 17 1 -7 1 -20 1 32 1 -11 1 0 1 -12 1 27 1 -5 1 5 1 -10 1 6 1 42 1 -44 1 1 1 -9 1 15 1 -12 1 -6 1 25 1 -17 1 -10 1 -8 1 13 1 -7 1 34 1 -11 1 -48 1 56 1 -21 1 14 1 -14 1 11 1 0 1 18 1 -12 1 -45 1 28 1 6 1 -2 1 -17 1 14 1 3 1 -45 1 36 1 22 1 -20 1 8 1 2 1 14 1 -3 1 4 1 -12 1 1 1 -4 1 5 1 -7 1 15 1 0 1 -29 1 -12 1 38 1 -13 1 -14 1 34 1 8 1 -36 1 3 1 4 1 -2 1 10 1 -14 1 16 1 -6 1 21 1 -19 1 17 1 9 1 -6 1 5 1 -26 1 7 1 32 1 -12 1 -19 1 -6 1 4 1 18 1 -45 1 33 1 -22 1 63 1 -64 1 34 1 -17 1 5 1 23 1 -23 1 10 1 -4 1 -22 1 16 1 15 1 -8 1 -2 1 -27 1 47 1 -30 1 34 1 -23 1 8 1 -31 1 23 1 -15 1 15 1 17 1 -12 1 -1 1 11 1 -32 1 20 1 -11 1 26 1 -26 1 35 1 7 1 -63 1 30 1 -21 1 43 1 -31 1 23 1 -5 1 -18 1 -9 1 41 1 -26 1 13 1 19 1 -22 1 -4 1 -11 1 23 1 -19 1 -13 1 17 1 0 1 -16 1 22 1 17 1 -3 1 23 1 -14 1 -13 1 -36 1 36 1 16 1 -28 1 33 1 -37 1 19 1 26 1 -2 1 -28 1 33 1 -37 1 -23 1 27 1 25 1 -27 1 32 1 -30 1 35 1 -67 1 74 1 -70 1 32 1 -18 1 25 1 -8 1 -1 1 16 1 6 1 -21 1 51 1 -104 1 41 1 -5 1 32 1 7 1 -30 1 5 1 -9 1 32 1 8 1 -28 1 7 1 -4 1 7 1 9 1 -45 1 29 1 24 1 -29 1 38 1 3 1 -41 1 3 1 38 1 -51 1 10 1 -9 1 29 1 6 1 3 1 -3 1 -29 1 71 1 -47 1 -5 1 38 1 -28 1 4 1 9 1 22 1 -36 1 13 1 -54 1 24 1 55 1 -1 1 -38 1 -14 1 -8 1 3 1 12 1 -21 1 29 1 -1 1 -19 1 -1 1 2 1 12 1 5 1 14 1 -42 1 25 1 7 1 5 1 9 1 -22 1 29 1 19 1 -33 1 21 1 -10 1 -8 1 -15 1 15 1 37 1 -32 1 -10 1 13 1 35 1 -17 1 62 1 -7 1 0 1 41 1 -65 1 13 1 -1 1 11 1 -63 1 3 1 23 1 -44 1 15 1 -29 1 -15 1 17 1 9 1 -26 1 -23 1 7 1 3 1 2 1 -31 1 44 1 -30 1 32 1 -33 1 0 1 32 1 -7 1 -17 1 -5 1 5 1 4 1 2 1 12 1 -30 1 13 1 0 1 -22 1 38 1 8 1 -27 1 -26 1 14 1 27 1 -68 1 23 1 22 1 15 1 5 1 3 1 -51 1 27 1 -6 1 0 1 26 1 -5 1 -18 1 15 1 0 1 16 1 -28 1 18 1 -20 1 18 1 -7 1 5 1 -4 1 23 1 -33 1 -3 1 6 1 15 1 4 1 -11 1 -8 1 4 1 -4 1 18 1 -7 1 4 1 -2 1 3 1 14 1 -24 1 14 1 1 1 -17 1 36 1 -20 1 -20 1 32 1 -5 1 3 1 -13 1 -2 1 9 1 -23 1 25 1 0 1 14 1 -17 1 14 1 -31 1 12 1 26 1 13 1 -8 1 -37 1 9 1 9 1 58 1 -54 1 17 1 6 1 3 1 -8 1 11 1 13 1 -9 1 -1 1 19 1 18 1 22 1 -63 1 31 1 2 1 -18 1 21 1 -19 1 16 1 -1 1 47 1 -28 1 17 1 16 1 -11 1 2 1 0 1 28 1 60 1 -65 1 72 1 -34 1 10 1 55 1 5 1 14 1 -6 1 37 1 -29 1 39 1 31 1 -16 1 -12 1 95 1 -50 1 -11 1 62 1 33 1 -10 1 -44 1 52 1 19 1 21 1 -59 1 13 1 57 1 1 1 21 1 30 1 -84 1 11 1 20 1 73 1 -61 1 39 1 -99 1 66 1 19 1 10 1 -79 1 78 1 -97 1 67 1 -2 1 -69 1 -51 1 91 1 -57 1 -61 1 42 1 -59 1 26 1 -72 1 -10 1 64 1 -52 1 6 1 -3 1 -18 1 -25 1 20 1 -3 1 -20 1 -24 1 2 1 29 1 -16 1 -44 1 14 1 -8 1 -8 1 -20 1 4 1 -26 1 18 1 -11 1 -3 1 -6 1 -8 1 -35 1 -14 1 23 1 -16 1 18 1 -33 1 -1 1 -22 1 20 1 -10 1 26 1 -25 1 22 1 -45 1 -19 1 47 1 -14 1 52 1 -80 1 -21 1 56 1 -25 1 -27 1 54 1 -38 1 -17 1 18 1 -18 1 -7 1 19 1 -8 1 -6 1 0 1 -22 1 32 1 17 1 -27 1 14 1 33 1 -59 1 -9 1 -5 1 0 1 24 1 -15 1 19 1 -29 1 34 1 -31 1 3 1 1 1 -5 1 1 1 9 1 -11 1 8 1 -19 1 -1 1 -9 1 30 1 -23 1 17 1 -5 1 0 1 -6 1 11 1 -2 1 16 1 -28 1 -1 1 -12 1 46 1 -40 1 21 1 -1 1 -28 1 7 1 19 1 -11 1 -18 1 19 1 19 1 -17 1 3 1 9 1 12 1 -29 1 -9 1 7 1 -6 1 -12 1 15 1 -11 1 29 1 -18 1 -34 1 21 1 18 1 -13 1 -3 1 3 1 -5 1 19 1 -14 1 -21 1 37 1 -27 1 19 1 -17 1 8 1 -2 1 -8 1 7 1 27 1 -35 1 41 1 -16 1 10 1 -27 1 20 1 -11 1 24 1 -40 1 29 1 -24 1 26 1 -23 1 -9 1 -4 1 11 1 28 1 -37 1 8 1 10 1 3 1 4 1 21 1 -23 1 -14 1 34 1 -13 1 7 1 9 1 27 1 -2 1 -15 1 -4 1 13 1 -20 1 -19 1 1 1 35 1 -30 1 -2 1 24 1 -4 1 -4 1 -34 1 14 1 9 1 -7 1 -20 1 1 1 -8 1 2 1 10 1 -1 1 -16 1 19 1 -6 1 31 1 -41 1 9 1 -31 1 37 1 -3 1 3 1 -10 1 0 1 -2 1 34 1 -45 1 10 1 8 1 -11 1 -7 1 7 1 7 1 15 1 -25 1 -20 1 38 1 -12 1 7 1 -9 1 1 1 -23 1 29 1 -19 1 20 1 -30 1 36 1 -16 1 -25 1 28 1 0 1 0 1 -14 1 39 1 -32 1 17 1 -41 1 36 1 -1 1 -6 1 15 1 -22 1 13 1 -6 1 3 1 -14 1 19 1 -1 1 -3 1 0 1 -8 1 -11 1 13 1 12 1 -23 1 13 1 19 1 -9 1 -20 1 26 1 -34 1 17 1 16 1 -6 1 -3 1 -16 1 -7 1 25 1 -3 1 17 1 -27 1 -6 1 7 1 -15 1 17 1 4 1 -2 1 24 1 0 1 -31 1 3 1 22 1 -2 1 -28 1 6 1 0 1 -6 1 9 1 -8 1 23 1 -3 1 -26 1 13 1 1 1 24 1 -25 1 19 1 9 1 -43 1 30 1 -5 1 10 1 -27 1 12 1 -16 1 29 1 -32 1 24 1 -20 1 10 1 0 1 10 1 6 1 8 1 2 1 -16 1 -13 1 28 1 -30 1 15 1 -8 1 1 1 9 1 -16 1 13 1 0 1 14 1 1 1 -4 1 -9 1 20 1 -9 1 -27 1 19 1 9 1 -23 1 17 1 -11 1 -6 1 11 1 -8 1 -7 1 15 1 -23 1 36 1 -18 1 6 1 10 1 0 1 -15 1 7 1 8 1 6 1 -27 1 18 1 -22 1 3 1 10 1 -5 1 -8 1 2 1 10 1 -16 1 19 1 -16 1 32 1 -15 1 7 1 -14 1 19 1 -7 1 3 1 -7 1 15 1 -18 1 18 1 -20 1 0 1 9 1 -3 1 -1 1 -9 1 3 1 20 1 -10 1 9 1 -16 1 26 1 -20 1 11 1 -7 1 17 1 -36 1 -6 1 24 1 -28 1 24 1 2 1 7 1 14 1 -27 1 28 1 11 1 7 1 -58 1 32 1 58 1 -65 1 32 1 -10 1 4 1 -32 1 4 1 -8 1 50 1 -8 1 -24 1 17 1 -3 1 -17 1 -2 1 -37 1 34 1 4 1 29 1 -7 1 -16 1 6 1 -18 1 -22 1 35 1 3 1 -20 1 26 1 -4 1 -5 1 -37 1 24 1 7 1 -21 1 -7 1 27 1 14 1 -17 1 -9 1 -10 1 -8 1 -12 1 28 1 -11 1 21 1 -53 1 22 1 12 1 5 1 -4 1 -15 1 4 1 19 1 -16 1 -1 1 12 1 -3 1 -5 1 19 1 -35 1 20 1 -12 1 18 1 -23 1 19 1 -13 1 33 1 -26 1 22 1 -33 1 1 1 11 1 -45 1 30 1 27 1 -5 1 -15 1 15 1 -7 1 0 1 -16 1 21 1 -17 1 23 1 -28 1 39 1 -35 1 -8 1 2 1 17 1 -1 1 -11 1 16 1 13 1 -18 1 5 1 1 1 0 1 -29 1 36 1 -17 1 2 1 12 1 -43 1 50 1 -17 1 15 1 -14 1 11 1 -3 1 -25 1 12 1 -7 1 7 1 -9 1 -7 1 15 1 -1 1 9 1 13 1 -27 1 6 1 16 1 -2 1 -29 1 18 1 -16 1 7 1 4 1 4 1 -1 1 6 1 2 1 15 1 -8 1 -21 1 29 1 -12 1 -16 1 3 1 13 1 2 1 4 1 -21 1 16 1 31 1 -46 1 6 1 20 1 5 1 -10 1 12 1 -2 1 -8 1 13 1 -1 1 11 1 7 1 -21 1 13 1 -12 1 12 1 8 1 9 1 -36 1 37 1 -11 1 -3 1 0 1 -6 1 13 1 -25 1 24 1 -17 1 27 1 -30 1 10 1 3 1 -1 1 8 1 -1 1 -26 1 -6 1 23 1 -15 1 -8 1 0 1 8 1 -2 1 -37 1 15 1 2 1 -7 1 24 1 0 1 -17 1 37 1 -40 1 18 1 -7 1 -7 1 3 1 -12 1 18 1 -17 1 10 1 -15 1 -8 1 17 1 0 1 12 1 -16 1 5 1 0 1 17 1 -19 1 -14 1 -4 1 10 1 5 1 -14 1 0 1 2 1 9 1 6 1 -14 1 -2 1 22 1 4 1 -13 1 -11 1 -1 1 13 1 -25 1 1 1 25 1 -24 1 6 1 28 1 -26 1 18 1 -16 1 -8 1 15 1 -6 1 9 1 -23 1 19 1 -3 1 5 1 -5 1 -12 1 22 1 -5 1 0 1 -3 1 -3 1 -9 1 -11 1 1 1 13 1 -19 1 14 1 14 1 -17 1 26 1 -33 1 21 1 -24 1 20 1 12 1 -18 1 -9 1 1 1 16 1 2 1 -4 1 -9 1 -5 1 2 1 -2 1 -5 1 24 1 14 1 -12 1 3 1 -21 1 -10 1 18 1 -5 1 -7 1 14 1 -8 1 10 1 -3 1 -11 1 8 1 -5 1 8 1 -4 1 -8 1 15 1 -9 1 1 1 2 1 19 1 -16 1 -5 1 -4 1 -9 1 14 1 1 1 -5 1 11 1 -3 1 8 1 -14 1 16 1 -8 1 -11 1 6 1 9 1 -15 1 17 1 -20 1 -7 1 22 1 -11 1 5 1 -2 1 11 1 -9 1 7 1 -25 1 18 1 -6 1 6 1 19 1 -26 1 10 1 -6 1 6 1 -11 1 3 1 -11 1 26 1 -10 1 2 1 -14 1 25 1 -4 1 -13 1 6 1 -5 1 11 1 -28 1 21 1 1 1 13 1 -24 1 -7 1 6 1 18 1 -4 1 5 1 -2 1 -1 1 -16 1 8 1 14 1 -9 1 -11 1 -8 1 13 1 2 1 3 1 -1 1 4 1 5 1 -4 1 -14 1 27 1 -22 1 -2 1 16 1 3 1 -8 1 7 1 -13 1 1 1 -9 1 19 1 -7 1 13 1 -17 1 13 1 -9 1 15 1 -15 1 13 1 -22 1 5 1 0 1 14 1 -28 1 8 1 16 1 -5 1 1 1 3 1 -5 1 8 1 6 1 -20 1 20 1 -19 1 -19 1 26 1 0 1 7 1 -17 1 10 1 -4 1 16 1 -10 1 -6 1 -4 1 9 1 20 1 -35 1 2 1 27 1 -2 1 -12 1 1 1 -3 1 -14 1 16 1 9 1 -2 1 -18 1 13 1 -4 1 18 1 -25 1 3 1 -2 1 50 1 -19 1 -19 1 12 1 -27 1 15 1 26 1 -25 1 -11 1 7 1 0 1 5 1 0 1 -4 1 -10 1 15 1 0 1 -16 1 23 1 -8 1 20 1 -13 1 -11 1 -3 1 28 1 -6 1 -6 1 3 1 -23 1 26 1 -13 1 1 1 12 1 -5 1 -22 1 23 1 -8 1 14 1 -10 1 4 1 -16 1 2 1 -3 1 15 1 -22 1 16 1 26 1 -12 1 26 1 -43 1 -1 1 5 1 12 1 -16 1 30 1 -30 1 24 1 -25 1 1 1 13 1 -4 1 -3 1 -2 1 8 1 -9 1 26 1 -12 1 -3 1 -16 1 41 1 -27 1 -10 1 -3 1 -18 1 14 1 -9 1 6 1 49 1 -37 1 -5 1 27 1 -26 1 30 1 -29 1 11 1 -8 1 -2 1 8 1 13 1 -14 1 -12 1 -8 1 32 1 -21 1 -3 1 17 1 0 1 1 1 -13 1 -14 1 35 1 -15 1 0 1 -9 1 15 1 -5 1 3 1 10 1 -16 1 -1 1 0 1 -14 1 13 1 15 1 -2 1 -15 1 -8 1 19 1 -5 1 1 1 15 1 -22 1 17 1 -8 1 5 1 -17 1 7 1 4 1 -5 1 3 1 -4 1 22 1 -44 1 33 1 -8 1 -13 1 5 1 -9 1 22 1 2 1 -4 1 13 1 -36 1 5 1 9 1 12 1 -3 1 -16 1 11 1 18 1 -34 1 21 1 4 1 2 1 -1 1 -14 1 -20 1 8 1 5 1 7 1 19 1 -16 1 2 1 12 1 -32 1 20 1 4 1 7 1 9 1 -12 1 -22 1 17 1 -15 1 13 1 -11 1 1 1 9 1 -9 1 7 1 -1 1 6 1 -12 1 -6 1 -6 1 24 1 1 1 -17 1 -9 1 28 1 -7 1 8 1 -8 1 14 1 -9 1 -5 1 12 1 -23 1 12 1 2 1 -4 1 7 1 -7 1 -14 1 41 1 -21 1 -3 1 -12 1 17 1 -2 1 -13 1 30 1 -2 1 -31 1 31 1 -17 1 18 1 -2 1 7 1 -4 1 11 1 -20 1 0 1 1 1 0 1 50 1 -41 1 14 1 -12 1 -4 1 14 1 -20 1 17 1 8 1 -15 1 1 1 -7 1 14 1 3 1 18 1 -36 1 5 1 -11 1 14 1 3 1 -7 1 -4 1 5 1 -2 1 1 1 -15 1 -2 1 3 1 -5 1 13 1 19 1 -22 1 -22 1 -2 1 8 1 16 1 -4 1 17 1 -19 1 -4 1 15 1 -24 1 9 1 12 1 -10 1 2 1 -15 1 -7 1 13 1 13 1 -17 1 -5 1 -6 1 36 1 -36 1 10 1 -6 1 19 1 -25 1 3 1 16 1 -19 1 22 1 7 1 -11 1 -28 1 20 1 4 1 16 1 2 1 -6 1 -9 1 -4 1 2 1 -6 1 2 1 -2 1 6 1 13 1 -27 1 33 1 -13 1 14 1 -21 1 0 1 13 1 -17 1 -5 1 9 1 -12 1 26 1 -12 1 3 1 -5 1 0 1 11 1 -8 1 11 1 -33 1 23 1 4 1 -10 1 -17 1 17 1 -2 1 15 1 -1 1 -1 1 -8 1 1 1 -1 1 8 1 -10 1 5 1 3 1 -10 1 3 1 -9 1 -4 1 4 1 -1 1 -8 1 16 1 6 1 1 1 5 1 -16 1 23 1 -25 1 5 1 11 1 -28 1 18 1 0 1 16 1 -26 1 7 1 -37 1 35 1 -14 1 2 1 17 1 -12 1 -6 1 18 1 -5 1 -5 1 -11 1 7 1 -6 1 10 1 -1 1 1 1 -5 1 4 1 10 1 -13 1 13 1 -2 1 0 1 -23 1 23 1 -6 1 2 1 -6 1 0 1 -8 1 -1 1 16 1 -14 1 4 1 12 1 3 1 -13 1 -16 1 20 1 5 1 -8 1 -3 1 -7 1 11 1 21 1 -18 1 -8 1 -5 1 11 1 -15 1 7 1 2 1 0 1 5 1 -4 1 -9 1 -8 1 18 1 -23 1 10 1 28 1 -22 1 17 1 -17 1 8 1 3 1 3 1 -11 1 -7 1 9 1 -12 1 0 1 20 1 -15 1 17 1 0 1 -16 1 3 1 2 1 10 1 -8 1 10 1 -10 1 22 1 -23 1 12 1 -3 1 4 1 8 1 -33 1 30 1 -15 1 -12 1 7 1 -3 1 13 1 -8 1 3 1 8 1 -21 1 1 1 13 1 -14 1 29 1 -26 1 2 1 14 1 23 1 -29 1 -4 1 -8 1 9 1 -1 1 -5 1 5 1 12 1 -6 1 -23 1 36 1 -5 1 -20 1 22 1 -21 1 15 1 -3 1 -9 1 11 1 -2 1 1 1 -13 1 18 1 -8 1 14 1 -5 1 -1 1 -15 1 41 1 -28 1 -3 1 -5 1 5 1 10 1 -28 1 23 1 -16 1 -5 1 21 1 1 1 -7 1 6 1 10 1 -12 1 -11 1 7 1 0 1 17 1 -16 1 -12 1 3 1 24 1 -6 1 -15 1 -3 1 21 1 -19 1 10 1 10 1 -1 1 -15 1 15 1 -21 1 18 1 -7 1 -13 1 32 1 -17 1 10 1 -9 1 34 1 -11 1 -20 1 44 1 -27 1 10 1 -38 1 27 1 -13 1 13 1 0 1 9 1 -25 1 22 1 -12 1 31 1 -10 1 4 1 3 1 -4 1 -19 1 7 1 -25 1 15 1 0 1 0 1 6 1 -5 1 19 1 -9 1 -10 1 -8 1 1 1 20 1 -22 1 19 1 -23 1 12 1 -13 1 19 1 -2 1 -8 1 -12 1 -12 1 24 1 17 1 -21 1 13 1 -13 1 18 1 -30 1 54 1 -41 1 7 1 23 1 -16 1 0 1 -4 1 7 1 -16 1 -1 1 29 1 -16 1 2 1 -2 1 2 1 12 1 -11 1 -4 1 -5 1 9 1 11 1 -19 1 1 1 19 1 -11 1 10 1 -24 1 3 1 -3 1 17 1 -22 1 24 1 -7 1 6 1 4 1 2 1 -38 1 34 1 6 1 -18 1 13 1 10 1 -9 1 -21 1 48 1 -51 1 22 1 2 1 -1 1 -1 1 12 1 -9 1 -3 1 9 1 -30 1 11 1 -9 1 -1 1 27 1 -10 1 16 1 -10 1 -43 1 30 1 -2 1 -2 1 27 1 -26 1 19 1 -14 1 0 1 -6 1 28 1 -21 1 -12 1 14 1 -18 1 32 1 -30 1 7 1 10 1 -15 1 30 1 -18 1 2 1 0 1 -1 1 1 1 22 1 -26 1 -9 1 27 1 -3 1 -17 1 0 1 20 1 -13 1 -2 1 -1 1 -6 1 15 1 -43 1 22 1 -8 1 14 1 -6 1 17 1 -12 1 6 1 10 1 -6 1 -9 1 1 1 -2 1 10 1 0 1 15 1 -6 1 -5 1 -11 1 12 1 -17 1 -31 1 50 1 5 1 -50 1 66 1 -46 1 7 1 19 1 -8 1 2 1 -12 1 29 1 -17 1 0 1 24 1 -21 1 8 1 3 1 -9 1 -17 1 25 1 -16 1 25 1 -2 1 -53 1 65 1 -42 1 19 1 2 1 -6 1 6 1 12 1 -13" fill="none" stroke="#860090" stroke-width="1" vector-effect="non-scaling-stroke" stroke-linejoin="round"/>
<path transform="matrix(0.10918 0 0 -0.21375 99.795 359.5)" d="M0 767l1 -77 1 58 1 -19 1 27 1 -20 1 30 1 -38 1 -12 1 23 1 -3 1 -17 1 2 1 20 1 17 1 -43 1 2 1 -30 1 73 1 -40 1 33 1 -20 1 29 1 0 1 -32 1 25 1 -52 1 47 1 -59 1 39 1 15 1 -18 1 -13 1 -9 1 9 1 29 1 -3 1 -25 1 -21 1 40 1 -44 1 19 1 -5 1 31 1 -11 1 4 1 -4 1 -20 1 25 1 18 1 -31 1 30 1 -35 1 27 1 -8 1 4 1 -12 1 27 1 -42 1 0 1 -6 1 25 1 -26 1 -1 1 28 1 8 1 -12 1 -68 1 35 1 -2 1 -4 1 16 1 45 1 -44 1 -27 1 47 1 -13 1 0 1 -17 1 14 1 8 1 -48 1 6 1 54 1 -6 1 -27 1 -11 1 16 1 -20 1 16 1 79 1 -70 1 20 1 -28 1 11 1 20 1 -55 1 20 1 3 1 8 1 62 1 -55 1 -43 1 23 1 -12 1 -1 1 57 1 -61 1 25 1 -19 1 30 1 -10 1 -5 1 -4 1 23 1 -63 1 26 1 -8 1 47 1 -32 1 -15 1 11 1 56 1 -51 1 18 1 -8 1 -9 1 -14 1 7 1 -1 1 -36 1 91 1 -11 1 -37 1 -7 1 -11 1 32 1 -22 1 12 1 -35 1 33 1 30 1 -44 1 20 1 -15 1 20 1 -1 1 -20 1 -12 1 22 1 -11 1 -13 1 19 1 -1 1 -24 1 13 1 56 1 -39 1 -14 1 44 1 -55 1 -38 1 10 1 7 1 32 1 13 1 -84 1 85 1 -43 1 32 1 -2 1 -1 1 -8 1 2 1 -24 1 31 1 6 1 -1 1 30 1 -28 1 -7 1 16 1 -25 1 -28 1 -17 1 62 1 -13 1 4 1 -21 1 11 1 27 1 -28 1 -26 1 12 1 31 1 -43 1 -44 1 22 1 16 1 37 1 -13 1 -15 1 -10 1 20 1 -1 1 -7 1 5 1 -10 1 44 1 -72 1 42 1 -20 1 29 1 -16 1 17 1 -5 1 -6 1 13 1 -69 1 67 1 -20 1 10 1 19 1 -8 1 14 1 -71 1 21 1 32 1 -36 1 16 1 31 1 -15 1 -30 1 23 1 2 1 -10 1 -3 1 4 1 -27 1 26 1 -19 1 22 1 0 1 -21 1 23 1 -4 1 -7 1 26 1 -31 1 0 1 6 1 -3 1 19 1 -57 1 33 1 -28 1 24 1 11 1 -4 1 15 1 -11 1 -48 1 25 1 41 1 0 1 -23 1 -26 1 58 1 -68 1 38 1 -6 1 4 1 -22 1 11 1 23 1 -35 1 -4 1 21 1 1 1 -4 1 -10 1 20 1 -10 1 -17 1 22 1 -5 1 3 1 -29 1 -1 1 34 1 7 1 -9 1 -3 1 8 1 4 1 12 1 -20 1 -16 1 16 1 -37 1 30 1 -8 1 6 1 8 1 -6 1 -24 1 16 1 -21 1 25 1 7 1 -20 1 25 1 8 1 -24 1 15 1 -33 1 14 1 39 1 -85 1 46 1 -6 1 30 1 -1 1 -26 1 11 1 -41 1 51 1 -1 1 8 1 -55 1 40 1 -10 1 -48 1 42 1 9 1 13 1 -9 1 -11 1 14 1 -8 1 -8 1 -6 1 17 1 0 1 24 1 -33 1 29 1 -18 1 11 1 -30 1 1 1 8 1 17 1 -11 1 8 1 -6 1 10 1 -12 1 -11 1 15 1 -6 1 23 1 -27 1 4 1 -6 1 20 1 -4 1 -3 1 -27 1 -4 1 25 1 6 1 11 1 -47 1 23 1 -22 1 11 1 6 1 20 1 -21 1 -3 1 6 1 22 1 16 1 -56 1 18 1 -2 1 22 1 -10 1 15 1 -36 1 14 1 -6 1 -9 1 12 1 -14 1 47 1 -25 1 -20 1 6 1 32 1 -31 1 16 1 -1 1 7 1 -7 1 -12 1 -5 1 -16 1 23 1 3 1 -7 1 3 1 -15 1 66 1 -56 1 -7 1 6 1 3 1 15 1 -44 1 41 1 -16 1 4 1 36 1 -20 1 -20 1 8 1 27 1 -7 1 -6 1 -12 1 14 1 -8 1 -13 1 -6 1 21 1 -1 1 32 1 -44 1 27 1 -24 1 23 1 -10 1 -16 1 -4 1 12 1 -2 1 17 1 -23 1 -11 1 22 1 28 1 -4 1 -32 1 5 1 8 1 -14 1 6 1 0 1 -29 1 24 1 1 1 14 1 -24 1 18 1 -16 1 -12 1 9 1 66 1 -33 1 0 1 -8 1 -15 1 4 1 2 1 2 1 1 1 12 1 -62 1 33 1 27 1 -26 1 3 1 21 1 -18 1 21 1 -25 1 3 1 -17 1 -13 1 20 1 6 1 -11 1 -29 1 47 1 -8 1 -1 1 -11 1 32 1 -3 1 -15 1 -6 1 5 1 18 1 14 1 -36 1 -13 1 -11 1 59 1 -50 1 25 1 -5 1 10 1 -28 1 -10 1 23 1 3 1 9 1 -36 1 15 1 3 1 -14 1 15 1 12 1 -11 1 -18 1 23 1 6 1 -4 1 3 1 -31 1 27 1 10 1 -21 1 3 1 -8 1 25 1 -20 1 -8 1 14 1 -1 1 7 1 -19 1 2 1 13 1 40 1 -32 1 -30 1 19 1 -12 1 -13 1 14 1 2 1 12 1 11 1 -2 1 -5 1 -15 1 7 1 -2 1 18 1 -26 1 -7 1 33 1 -11 1 -20 1 15 1 -1 1 1 1 7 1 -5 1 -7 1 -4 1 -15 1 15 1 20 1 -12 1 -10 1 4 1 -7 1 14 1 40 1 -22 1 11 1 -23 1 -13 1 -12 1 15 1 -6 1 16 1 -9 1 -9 1 13 1 30 1 -47 1 25 1 -7 1 -8 1 -19 1 20 1 3 1 6 1 -1 1 -4 1 -13 1 12 1 -9 1 -7 1 23 1 -28 1 3 1 15 1 -24 1 22 1 13 1 -17 1 8 1 23 1 -9 1 -6 1 -4 1 -14 1 5 1 -2 1 4 1 1 1 -11 1 29 1 -32 1 17 1 8 1 -13 1 -8 1 8 1 23 1 -15 1 -11 1 10 1 -9 1 -21 1 26 1 10 1 1 1 -15 1 -16 1 31 1 -16 1 11 1 5 1 -10 1 -5 1 -6 1 2 1 5 1 -5 1 9 1 -27 1 11 1 12 1 -8 1 2 1 -8 1 22 1 12 1 -32 1 26 1 -31 1 19 1 -26 1 30 1 -5 1 1 1 13 1 -7 1 -8 1 -9 1 10 1 -9 1 4 1 23 1 -8 1 -7 1 4 1 -25 1 20 1 -23 1 13 1 12 1 1 1 4 1 -7 1 -1 1 -2 1 38 1 -21 1 -33 1 19 1 14 1 -19 1 6 1 -10 1 -7 1 16 1 -7 1 3 1 -15 1 3 1 13 1 -4 1 12 1 -20 1 22 1 -2 1 -6 1 7 1 -9 1 -1 1 2 1 -15 1 15 1 10 1 -29 1 28 1 -16 1 3 1 6 1 2 1 13 1 -18 1 23 1 -21 1 6 1 2 1 -28 1 6 1 16 1 7 1 2 1 -15 1 26 1 -23 1 -6 1 22 1 1 1 -26 1 22 1 -26 1 17 1 27 1 -12 1 -7 1 0 1 -18 1 14 1 2 1 -19 1 16 1 4 1 0 1 -1 1 -8 1 -11 1 14 1 -24 1 15 1 23 1 9 1 -18 1 -35 1 47 1 -10 1 -9 1 12 1 -2 1 -22 1 -1 1 29 1 -42 1 37 1 -4 1 9 1 9 1 -5 1 3 1 -9 1 -4 1 7 1 -13 1 -11 1 10 1 -19 1 13 1 33 1 -19 1 -9 1 -5 1 -15 1 16 1 -3 1 10 1 1 1 -2 1 -23 1 42 1 -12 1 -6 1 -4 1 10 1 10 1 -8 1 -22 1 -20 1 4 1 32 1 8 1 6 1 -14 1 9 1 -22 1 18 1 -8 1 -7 1 -13 1 37 1 -44 1 37 1 -18 1 18 1 -15 1 17 1 -12 1 -11 1 7 1 -14 1 24 1 10 1 -7 1 -4 1 15 1 -32 1 23 1 -7 1 -6 1 13 1 -22 1 13 1 7 1 -20 1 13 1 10 1 5 1 -24 1 24 1 -15 1 5 1 -17 1 26 1 -19 1 13 1 2 1 5 1 -24 1 37 1 -22 1 19 1 -23 1 -3 1 7 1 -3 1 2 1 -14 1 -11 1 9 1 12 1 14 1 -9 1 -9 1 12 1 3 1 37 1 -19 1 -15 1 -22 1 18 1 -1 1 12 1 23 1 -30 1 -49 1 49 1 -21 1 35 1 5 1 -5 1 -31 1 19 1 20 1 -31 1 6 1 13 1 4 1 -6 1 4 1 -2 1 -11 1 7 1 5 1 -19 1 18 1 -1 1 5 1 -2 1 -20 1 -4 1 22 1 -6 1 3 1 -9 1 -11 1 22 1 -6 1 10 1 25 1 -19 1 -1 1 -28 1 -17 1 21 1 -9 1 -1 1 27 1 -32 1 35 1 3 1 35 1 -37 1 15 1 -38 1 -13 1 35 1 -32 1 34 1 -20 1 -23 1 53 1 -42 1 51 1 -81 1 34 1 15 1 -3 1 -22 1 23 1 1 1 4 1 -28 1 14 1 7 1 12 1 -8 1 -7 1 -1 1 50 1 -56 1 16 1 -34 1 54 1 -17 1 -57 1 59 1 11 1 -7 1 -11 1 11 1 -22 1 7 1 -1 1 6 1 -15 1 34 1 -21 1 -13 1 12 1 9 1 -5 1 16 1 -21 1 -6 1 19 1 11 1 -32 1 -8 1 14 1 8 1 -13 1 17 1 -14 1 25 1 -30 1 5 1 14 1 10 1 4 1 -24 1 11 1 8 1 14 1 -34 1 -5 1 26 1 -11 1 25 1 -19 1 5 1 -17 1 17 1 15 1 -22 1 -14 1 33 1 -18 1 6 1 -11 1 27 1 -26 1 5 1 9 1 -3 1 -31 1 44 1 -25 1 24 1 -9 1 5 1 -9 1 -4 1 21 1 3 1 14 1 -6 1 -19 1 33 1 20 1 -24 1 -13 1 -11 1 20 1 -25 1 58 1 -35 1 -14 1 30 1 -24 1 -7 1 26 1 34 1 -36 1 36 1 -49 1 37 1 14 1 29 1 -102 1 73 1 -14 1 28 1 -13 1 17 1 -14 1 8 1 24 1 28 1 -24 1 3 1 -9 1 50 1 -70 1 4 1 26 1 33 1 16 1 -4 1 9 1 -6 1 -14 1 -10 1 41 1 -29 1 37 1 13 1 -30 1 8 1 2 1 54 1 -29 1 -18 1 28 1 35 1 -28 1 -2 1 -11 1 -34 1 49 1 4 1 -8 1 41 1 -37 1 3 1 10 1 10 1 -62 1 55 1 26 1 -64 1 40 1 -25 1 -14 1 32 1 -11 1 -45 1 30 1 35 1 -58 1 -11 1 33 1 -4 1 29 1 -43 1 -11 1 40 1 12 1 -9 1 1 1 -39 1 -23 1 18 1 16 1 -44 1 34 1 20 1 -33 1 62 1 -28 1 -50 1 1 1 10 1 34 1 -7 1 -26 1 17 1 15 1 -8 1 -52 1 12 1 3 1 -20 1 62 1 -38 1 -1 1 -5 1 26 1 6 1 1 1 12 1 -54 1 60 1 18 1 -73 1 2 1 20 1 12 1 -38 1 -15 1 64 1 -62 1 -55 1 72 1 7 1 56 1 -46 1 26 1 -84 1 -13 1 -14 1 65 1 -50 1 -30 1 -11 1 42 1 -15 1 12 1 -28 1 0 1 21 1 -17 1 12 1 -17 1 -6 1 9 1 -16 1 7 1 2 1 -21 1 2 1 4 1 8 1 -10 1 -3 1 2 1 -16 1 9 1 -21 1 -21 1 37 1 -42 1 29 1 27 1 -16 1 -30 1 28 1 -10 1 -19 1 8 1 -6 1 3 1 9 1 -32 1 38 1 18 1 -36 1 -14 1 8 1 25 1 -28 1 15 1 28 1 -48 1 12 1 -11 1 3 1 7 1 -14 1 18 1 -5 1 15 1 -7 1 -6 1 17 1 -26 1 12 1 -19 1 31 1 -33 1 26 1 -26 1 14 1 -20 1 5 1 -3 1 21 1 1 1 18 1 -20 1 -10 1 14 1 13 1 -29 1 -6 1 20 1 22 1 -32 1 -4 1 -10 1 4 1 -3 1 0 1 30 1 3 1 -17 1 0 1 11 1 -12 1 1 1 8 1 -10 1 20 1 30 1 -49 1 4 1 -16 1 5 1 9 1 5 1 -9 1 -16 1 24 1 -14 1 15 1 -10 1 2 1 0 1 -30 1 50 1 -32 1 19 1 3 1 -17 1 -11 1 29 1 -23 1 13 1 8 1 -14 1 -18 1 15 1 18 1 -20 1 26 1 -36 1 8 1 -11 1 12 1 38 1 -15 1 -12 1 -5 1 27 1 -19 1 -13 1 39 1 -43 1 23 1 8 1 6 1 16 1 -17 1 -23 1 30 1 -13 1 -23 1 3 1 6 1 -21 1 43 1 4 1 0 1 -20 1 15 1 22 1 -11 1 -7 1 -8 1 15 1 53 1 -46 1 43 1 6 1 -27 1 -39 1 29 1 33 1 -31 1 2 1 19 1 57 1 -57 1 -24 1 51 1 8 1 14 1 -8 1 12 1 -22 1 50 1 -14 1 20 1 -42 1 78 1 -19 1 -20 1 32 1 -20 1 21 1 45 1 3 1 14 1 29 1 -42 1 19 1 54 1 -45 1 -33 1 50 1 -6 1 15 1 8 1 -26 1 46 1 -21 1 31 1 -37 1 -8 1 16 1 60 1 -103 1 103 1 -59 1 30 1 -50 1 16 1 -7 1 34 1 -63 1 2 1 -62 1 47 1 -37 1 8 1 4 1 -5 1 -47 1 -29 1 62 1 -50 1 8 1 -20 1 -38 1 24 1 -8 1 32 1 -86 1 21 1 16 1 -31 1 -39 1 48 1 -15 1 -26 1 -9 1 -16 1 26 1 -12 1 -13 1 12 1 26 1 -51 1 31 1 -29 1 5 1 -7 1 -2 1 -8 1 -39 1 16 1 23 1 -29 1 13 1 -25 1 11 1 27 1 -20 1 -16 1 1 1 -15 1 26 1 -10 1 10 1 0 1 -15 1 -9 1 -4 1 9 1 4 1 15 1 -28 1 16 1 -18 1 5 1 15 1 -3 1 -13 1 -1 1 20 1 -15 1 -2 1 -9 1 41 1 -8 1 -15 1 20 1 -20 1 -9 1 10 1 10 1 -29 1 27 1 0 1 3 1 -11 1 7 1 -33 1 20 1 12 1 -5 1 -3 1 -18 1 13 1 -18 1 17 1 6 1 -10 1 12 1 -6 1 10 1 -14 1 -15 1 4 1 5 1 9 1 1 1 -10 1 10 1 -9 1 14 1 -22 1 28 1 -10 1 -8 1 -8 1 18 1 -13 1 14 1 13 1 -18 1 0 1 11 1 -26 1 34 1 -24 1 10 1 -4 1 -10 1 21 1 -11 1 -11 1 0 1 -14 1 9 1 21 1 0 1 -30 1 27 1 4 1 -3 1 5 1 -34 1 23 1 -13 1 17 1 -15 1 9 1 8 1 -26 1 3 1 6 1 7 1 -17 1 25 1 12 1 -24 1 9 1 -34 1 15 1 19 1 -4 1 4 1 7 1 -13 1 -4 1 -2 1 5 1 -23 1 38 1 -39 1 6 1 17 1 9 1 -4 1 10 1 -20 1 -3 1 13 1 -18 1 14 1 3 1 -2 1 -25 1 19 1 -19 1 30 1 -13 1 14 1 4 1 -45 1 40 1 -5 1 11 1 -28 1 0 1 5 1 -11 1 20 1 -9 1 10 1 1 1 5 1 -22 1 21 1 0 1 -18 1 4 1 -9 1 28 1 1 1 -22 1 7 1 6 1 11 1 -16 1 18 1 -27 1 18 1 -7 1 2 1 -11 1 -10 1 12 1 11 1 -14 1 -9 1 16 1 2 1 -10 1 9 1 5 1 -2 1 8 1 2 1 -12 1 -8 1 -10 1 29 1 -7 1 7 1 -19 1 10 1 -10 1 -1 1 -5 1 12 1 8 1 3 1 -5 1 -6 1 24 1 -4 1 -6 1 -8 1 26 1 -36 1 -6 1 20 1 -4 1 9 1 -19 1 11 1 -14 1 8 1 8 1 -5 1 -10 1 -5 1 12 1 -6 1 -6 1 17 1 -11 1 24 1 8 1 -10 1 18 1 -43 1 -5 1 17 1 -17 1 20 1 8 1 -1 1 3 1 -13 1 2 1 3 1 -3 1 11 1 -15 1 4 1 -7 1 18 1 -9 1 1 1 -7 1 -14 1 15 1 -19 1 23 1 -13 1 28 1 -21 1 6 1 -4 1 -7 1 -4 1 -11 1 21 1 -16 1 35 1 -26 1 8 1 6 1 -1 1 15 1 -14 1 -4 1 4 1 18 1 2 1 -40 1 20 1 -8 1 10 1 7 1 -6 1 6 1 13 1 -39 1 20 1 1 1 5 1 -4 1 9 1 -10 1 5 1 -44 1 42 1 -16 1 21 1 13 1 -20 1 6 1 13 1 -2 1 -7 1 6 1 -20 1 5 1 -16 1 43 1 -39 1 24 1 -8 1 0 1 -15 1 13 1 2 1 10 1 -19 1 11 1 -14 1 26 1 -22 1 51 1 -46 1 -4 1 10 1 -3 1 15 1 1 1 -21 1 -1 1 0 1 15 1 6 1 -3 1 -10 1 3 1 7 1 8 1 -16 1 16 1 -19 1 7 1 12 1 -24 1 -35 1 32 1 12 1 -10 1 11 1 19 1 -25 1 25 1 -5 1 -39 1 41 1 -1 1 2 1 -10 1 2 1 -11 1 -3 1 11 1 21 1 -28 1 54 1 -51 1 10 1 -21 1 38 1 -10 1 8 1 -32 1 35 1 -13 1 -14 1 4 1 -14 1 17 1 15 1 -23 1 17 1 -21 1 -19 1 34 1 22 1 -3 1 -25 1 26 1 -2 1 -9 1 -9 1 18 1 -14 1 -4 1 20 1 -23 1 19 1 11 1 -29 1 12 1 5 1 -31 1 17 1 0 1 0 1 -4 1 31 1 -31 1 12 1 10 1 14 1 -44 1 4 1 4 1 11 1 18 1 -15 1 4 1 20 1 -26 1 8 1 26 1 -17 1 -19 1 -1 1 26 1 -32 1 4 1 25 1 8 1 6 1 -39 1 23 1 -56 1 37 1 56 1 -20 1 -12 1 -24 1 -26 1 57 1 -18 1 -9 1 23 1 14 1 -34 1 4 1 40 1 -48 1 31 1 -26 1 -2 1 -2 1 14 1 2 1 12 1 -22 1 18 1 -24 1 7 1 21 1 -3 1 -30 1 26 1 -31 1 12 1 42 1 -5 1 -26 1 16 1 10 1 7 1 0 1 -38 1 11 1 2 1 -39 1 26 1 26 1 -17 1 -6 1 -9 1 10 1 9 1 -4 1 24 1 -4 1 -56 1 63 1 -12 1 33 1 -33 1 35 1 -17 1 45 1 -5 1 12 1 -5 1 7 1 66 1 -41 1 -6 1 24 1 -25 1 -6 1 -55 1 -24 1 3 1 22 1 -27 1 0 1 -5 1 -9 1 -4 1 -8 1 4 1 0 1 -16 1 18 1 -10 1 -2 1 -5 1 17 1 -16 1 19 1 -32 1 21 1 -30 1 22 1 -8 1 0 1 -26 1 31 1 8 1 -34 1 23 1 4 1 6 1 -4 1 -20 1 29 1 -41 1 33 1 -4 1 -11 1 -4 1 9 1 23 1 -12 1 -16 1 17 1 13 1 7 1 -53 1 33 1 1 1 -22 1 -14 1 42 1 -23 1 -16 1 7 1 25 1 20 1 -17 1 -25 1 30 1 -43 1 39 1 -1 1 13 1 -11 1 2 1 -14 1 -6 1 6 1 26 1 -34 1 7 1 -5 1 16 1 -2 1 22 1 3 1 5 1 -22 1 -14 1 -19 1 28 1 -4 1 -17 1 20 1 12 1 -41 1 42 1 -6 1 -22 1 19 1 11 1 -13 1 3 1 22 1 -10 1 1 1 -14 1 20 1 14 1 -36 1 -10 1 15 1 11 1 -10 1 -9 1 58 1 -32 1 -4 1 -32 1 87 1 -58 1 53 1 -9 1 -2 1 -4 1 27 1 -24 1 23 1 -12 1 9 1 44 1 -3 1 -36 1 8 1 26 1 4 1 21 1 -11 1 -7 1 51 1 -21 1 37 1 -29 1 69 1 -20 1 10 1 14 1 -40 1 71 1 -21 1 -6 1 54 1 50 1 -57 1 78 1 -88 1 75 1 -16 1 38 1 59 1 3 1 -85 1 106 1 -73 1 25 1 -3 1 42 1 -2 1 65 1 -39 1 15 1 -26 1 45 1 -74 1 -15 1 79 1 -8 1 -28 1 53 1 -95 1 71 1 -4 1 -100 1 51 1 29 1 -74 1 -5 1 -8 1 -65 1 4 1 56 1 -27 1 -17 1 5 1 -50 1 -5 1 32 1 -33 1 4 1 7 1 8 1 -81 1 -16 1 -14 1 11 1 23 1 -34 1 59 1 -72 1 -39 1 14 1 64 1 -77 1 13 1 -44 1 9 1 44 1 -57 1 -19 1 18 1 -4 1 30 1 -24 1 49 1 -65 1 8 1 -3 1 6 1 -47 1 13 1 -49 1 33 1 -11 1 2 1 41 1 -13 1 -48 1 55 1 14 1 -48 1 -8 1 -3 1 -1 1 9 1 -17 1 18 1 -24 1 -7 1 6 1 6 1 -1 1 -8 1 -25 1 1 1 -7 1 20 1 13 1 -11 1 -2 1 -8 1 1 1 -6 1 24 1 -34 1 4 1 18 1 -13 1 14 1 -24 1 19 1 -4 1 -21 1 24 1 9 1 -27 1 7 1 9 1 12 1 -17 1 26 1 -37 1 30 1 -35 1 9 1 -12 1 24 1 -5 1 -31 1 -12 1 61 1 -32 1 -18 1 10 1 5 1 26 1 -15 1 -5 1 -13 1 20 1 -54 1 59 1 -2 1 -19 1 -35 1 33 1 6 1 26 1 -4 1 -29 1 -2 1 -7 1 21 1 -20 1 23 1 -8 1 -7 1 -6 1 -31 1 50 1 -23 1 24 1 -29 1 -11 1 31 1 -7 1 18 1 -11 1 -1 1 11 1 -19 1 16 1 22 1 -24 1 -17 1 11 1 -10 1 6 1 24 1 -32 1 -3 1 21 1 -11 1 3 1 -5 1 10 1 15 1 -10 1 -12 1 1 1 -6 1 1 1 22 1 -4 1 1 1 2 1 -12 1 10 1 11 1 19 1 -12 1 4 1 -5 1 35 1 -11 1 17 1 10 1 -15 1 20 1 12 1 -39 1 -1 1 -13 1 5 1 16 1 -29 1 6 1 -20 1 -13 1 2 1 0 1 -8 1 0 1 2 1 -11 1 24 1 -13 1 -8 1 -5 1 10 1 -14 1 -5 1 9 1 37 1 -35 1 4 1 -13 1 16 1 -12 1 -1 1 -2 1 7 1 -10 1 7 1 2 1 -9 1 -11 1 26 1 -19 1 -8 1 22 1 0 1 12 1 2 1 -39 1 18 1 14 1 -23 1 28 1 -9 1 -11 1 1 1 9 1 20 1 -2 1 -37 1 22 1 -23 1 15 1 -22 1 20 1 -2 1 9 1 -12 1 16 1 -9 1 -9 1 26 1 -13 1 -6 1 3 1 7 1 -9 1 -5 1 4 1 -4 1 0 1 45 1 -31 1 6 1 -20 1 -14 1 15 1 17 1 -24 1 13 1 -12 1 15 1 -10 1 5 1 7 1 -15 1 -4 1 3 1 15 1 -10 1 15 1 -6 1 6 1 -10 1 11 1 -5 1 -28 1 36 1 -6 1 -14 1 -24 1 8 1 22 1 -11 1 -3 1 2 1 -7 1 28 1 -19 1 9 1 2 1 2 1 -5 1 11 1 -16 1 30 1 -40 1 25 1 16 1 -34 1 26 1 24 1 -44 1 22 1 -30 1 17 1 -6 1 -8 1 -1 1 6 1 -10 1 19 1 0 1 11 1 -8 1 -6 1 -2 1 32 1 -45 1 2 1 41 1 -13 1 -10 1 5 1 5 1 -28 1 13 1 12 1 0 1 5 1 -10 1 -6 1 -3 1 14 1 -7 1 6 1 31 1 -22 1 -29 1 46 1 -42 1 -8 1 60 1 -38 1 -10 1 2 1 30 1 -1 1 -8 1 -18 1 -11 1 12 1 13 1 -5 1 -22 1 17 1 6 1 -29 1 32 1 7 1 -6 1 -21 1 7 1 2 1 -3 1 14 1 -9 1 0 1 3 1 -8 1 -11 1 17 1 -8 1 15 1 -5 1 -5 1 33 1 -30 1 -31 1 51 1 -5 1 -13 1 -40 1 29 1 40 1 -28 1 -3 1 11 1 -12 1 1 1 42 1 -28 1 4 1 -1 1 7 1 -2 1 -20 1 9 1 25 1 -18 1 21 1 -26 1 -13 1 21 1 -7 1 -2 1 0 1 -16 1 35 1 -9 1 -9 1 -9 1 32 1 -9 1 10 1 -4 1 19 1 -25 1 -20 1 22 1 10 1 -33 1 13 1 25 1 -38 1 34 1 -32 1 -10 1 13 1 -2 1 34 1 -56 1 14 1 -2 1 -19 1 31 1 -11 1 5 1 -4 1 15 1 -22 1 7 1 8 1 2 1 -14 1 9 1 -6 1 6 1 -11 1 9 1 0 1 -19 1 12 1 5 1 -5 1 -15 1 -21 1 25 1 13 1 -22 1 20 1 -10 1 1 1 0 1 -6 1 1 1 8 1 9 1 -14 1 2 1 -13 1 7 1 12 1 15 1 -29 1 2 1 -4 1 -4 1 13 1 -9 1 19 1 -53 1 0 1 24 1 13 1 -2 1 -16 1 -15 1 34 1 -18 1 30 1 -13 1 -9 1 5 1 19 1 -20 1 -22 1 0 1 24 1 -6 1 19 1 -10 1 9 1 -15 1 -4 1 18 1 -12 1 -5 1 6 1 11 1 -16 1 26 1 -15 1 -17 1 1 1 11 1 -3 1 -1 1 3 1 4 1 -5 1 -3 1 -14 1 36 1 -15 1 4 1 -3 1 11 1 -13 1 13 1 -18 1 3 1 8 1 1 1 6 1 -17 1 11 1 -10 1 -9 1 25 1 -10 1 -9 1 3 1 14 1 -5 1 0 1 9 1 -7 1 -18 1 30 1 -14 1 3 1 -22 1 -9 1 40 1 -5 1 7 1 5 1 9 1 7 1 0 1 -26 1 4 1 13 1 19 1 15 1 -46 1 -18 1 39 1 -5 1 23 1 4 1 -19 1 -17 1 -24 1 31 1 10 1 -9 1 9 1 -16 1 18 1 -11 1 -10 1 -7 1 6 1 1 1 16 1 -19 1 15 1 -43 1 33 1 -13 1 -11 1 -16 1 4 1 36 1 -10 1 -1 1 -15 1 11 1 -1 1 1 1 -19 1 3 1 3 1 33 1 -51 1 36 1 -3 1 -13 1 16 1 -15 1 2 1 -12 1 -30 1 62 1 -10 1 -31 1 25 1 -16 1 8 1 -14 1 -1 1 28 1 -22 1 3 1 7 1 7 1 -19 1 18 1 -6 1 -13 1 0 1 11 1 -7 1 15 1 -32 1 22 1 -7 1 -11 1 11 1 -12 1 10 1 12 1 -16 1 11 1 -3 1 -7 1 2 1 4 1 1 1 -8 1 3 1 8 1 -16 1 -2 1 13 1 1 1 -24 1 21 1 10 1 -5 1 -10 1 6 1 -17 1 19 1 0 1 1 1 -8 1 6 1 -9 1 12 1 -5 1 -19 1 1 1 18 1 4 1 2 1 -15 1 8 1 -7 1 -3 1 4 1 12 1 -14 1 18 1 -25 1 8 1 7 1 0 1 -4 1 -30 1 27 1 14 1 -6 1 -1 1 -1 1 -4 1 0 1 -4 1 16 1 -8 1 0 1 0 1 -6 1 -9 1 11 1 -11 1 7 1 6 1 9 1 -19 1 9 1 13 1 -24 1 15 1 -8 1 18 1 -1 1 -14 1 9 1 -5 1 13 1 -44 1 12 1 15 1 2 1 13 1 -4 1 -13 1 -9 1 34 1 -19 1 -5 1 10 1 8 1 -12 1 9 1 -27 1 22 1 13 1 -10 1 -15 1 -4 1 13 1 -11 1 3 1 -10 1 6 1 13 1 -11 1 -1 1 -4 1 10 1 5 1 -2 1 -25 1 24 1 -8 1 7 1 -9 1 20 1 6 1 -8 1 7 1 -13 1 -4 1 -15 1 12 1 2 1 17 1 -22 1 9 1 5 1 -5 1 0 1 9 1 -17 1 8 1 2 1 12 1 -2 1 -7 1 3 1 -26 1 21 1 -7 1 -9 1 19 1 -9 1 -2 1 -26 1 33 1 9 1 -9 1 5 1 3 1 -9 1 -3 1 -2 1 -1 1 1 1 6 1 -10 1 19 1 -17 1 22 1 -19 1 0 1 11 1 -13 1 -10 1 24 1 6 1 -30 1 22 1 -10 1 1 1 18 1 -26 1 8 1 16 1 -9 1 2 1 -10 1 -2 1 1 1 9 1 -6 1 8 1 20 1 -40 1 18 1 -4 1 -7 1 11 1 -10 1 -4 1 12 1 15 1 -16 1 5 1 -9 1 -10 1 2 1 14 1 4 1 -20 1 -17 1 38 1 -11 1 -27 1 39 1 -8 1 -2 1 4 1 -6 1 32 1 -46 1 16 1 10 1 2 1 -18 1 8 1 2 1 14 1 2 1 0 1 -13 1 11 1 -7 1 -7 1 -1 1 10 1 -4 1 -8 1 -3 1 -1 1 23 1 -16 1 4 1 13 1 0 1 -6 1 -4 1 -8 1 5 1 5 1 1 1 -12 1 23 1 -8 1 -6 1 -16 1 -22 1 41 1 -23 1 19 1 33 1 -36 1 -12 1 22 1 -13 1 4 1 -16 1 10 1 20 1 -16 1 -4 1 7 1 2 1 7 1 -2 1 2 1 -21 1 9 1 -15 1 33 1 -20 1 2 1 21 1 -9 1 -11 1 0 1 -1 1 12 1 22 1 -43 1 28 1 -2 1 -17 1 8 1 -1 1 -9 1 1 1 20 1 -9 1 -13 1 0 1 7 1 2 1 8 1 7 1 -15 1 -9 1 13 1 -2 1 -7 1 12 1 -8 1 9 1 -8 1 5 1 1 1 -15 1 18 1 -8 1 -17 1 13 1 16 1 2 1 -21 1 9 1 -15 1 17 1 -27 1 6 1 21 1 0 1 -11 1 11 1 11 1 -17 1 7 1 -14 1 -5 1 31 1 -16 1 -8 1 -11 1 23 1 3 1 5 1 -16 1 11 1 -8 1 -10 1 9 1 -6 1 -3 1 3 1 15 1 -8 1 -8 1 6 1 0 1 0 1 3 1 -9 1 21 1 -25 1 -1 1 -2 1 10 1 -1 1 7 1 -17 1 17 1 -19 1 45 1 -33 1 17 1 3 1 -39 1 44 1 -20 1 -36 1 38 1 0 1 15 1 -36 1 -12 1 30 1 -10 1 1 1 9 1 18 1 -18 1 10 1 -17 1 -6 1 4 1 28 1 -5 1 -5 1 -11 1 7 1 2 1 -21 1 12 1 23 1 -33 1 16 1 -7 1 2 1 13 1 -18 1 17 1 -8 1 12 1 -20 1 22 1 -13 1 -5 1 -1 1 -13 1 32 1 -18 1 22 1 26 1 -55 1 21 1 -10 1 10 1 5 1 -18 1 27 1 -13 1 22 1 -17 1 3 1 -1 1 35 1 -39 1 -22 1 43 1 -10 1 11 1 6 1 5 1 -15 1 4 1 9 1 4 1 -35 1 43 1 -40 1 18 1 12 1 -22 1 0 1 25 1 -1 1 -38 1 16 1 5 1 12 1 -14 1 5 1 -8 1 3 1 21 1 -25 1 -4 1 -45 1 25 1 -6 1 14 1 -4 1 -6 1 15 1 -26 1 18 1 -5 1 -8 1 -1 1 3 1 13 1 12 1 -37 1 15 1 -8 1 16 1 2 1 -4 1 -4 1 1 1 -24 1 21 1 -2 1 -5 1 -6 1 -4 1 3 1 2 1 -20 1 24 1 5 1 11 1 0 1 -11 1 -4 1 -1 1 8 1 2 1 -25 1 22 1 -12 1 4 1 -3 1 6 1 -13 1 10 1 -14 1 22 1 -1 1 -12 1 2 1 -4 1 12 1 -2 1 -9 1 2 1 4 1 -9 1 9 1 2 1 17 1 -19 1 -9 1 17 1 -8 1 -7 1 11 1 -13 1 18 1 -6 1 -12 1 4 1 18 1 -20 1 -1 1 9 1 -5 1 -3 1 7 1 -23 1 20 1 9 1 -1 1 -18 1 7 1 6 1 -11 1 8 1 0 1 -19 1 29 1 -14 1 -2 1 -2 1 -27 1 29 1 8 1 3 1 -10 1 -2 1 -2 1 13 1 6 1 -16 1 -21 1 22 1 10 1 -23 1 4 1 -6 1 14 1 17 1 -10 1 -21 1 2 1 14 1 -6 1 -12 1 16 1 -9 1 10 1 6 1 -7 1 -11 1 2 1 5 1 -4 1 13 1 1 1 -7 1 5 1 5 1 -19 1 4 1 18 1 -16 1 -3 1 4 1 4 1 -15 1 11 1 8 1 -11 1 -1 1 11 1 -13 1 -4 1 9 1 6 1 -7 1 -19 1 15 1 9 1 10 1 -14 1 20 1 -37 1 13 1 6 1 5 1 -9 1 8 1 -7 1 6 1 0 1 -3 1 1 1 -4 1 -3 1 28 1 -30 1 18 1 -3 1 -8 1 0 1 -5 1 7 1 -10 1 8 1 16 1 -6 1 -20 1 12 1 -4 1 -8 1 20 1 -23 1 23 1 6 1 -2 1 -22 1 8 1 0 1 1 1 8 1 -2 1 10 1 -19 1 8 1 7 1 -6 1 -18 1 16 1 1 1 -2 1 -7 1 13 1 -5 1 -7 1 11 1 -5 1 -3 1 -1 1 -3 1 9 1 -5 1 25 1 -21 1 7 1 -12 1 2 1 5 1 6 1 2 1 -7 1 2 1 3 1 2 1 2 1 -23 1 22 1 -8 1 3 1 -9 1 14 1 4 1 0 1 -15 1 -8 1 25 1 -15 1 -29 1 42 1 -28 1 28 1 -13 1 22 1 -17 1 -5 1 6 1 -8 1 2 1 9 1 -3 1 -11 1 7 1 21 1 -29 1 18 1 18 1 -30 1 14 1 -6 1 -9 1 26 1 -11 1 -6 1 -7 1 17 1 -4 1 -8 1 -5 1 2 1 2 1 -1 1 18 1 -13 1 16 1 -2 1 -2 1 -4 1 -5 1 1 1 21 1 -8 1 -14 1 12 1 -11 1 7 1 -8 1 2 1 2 1 19 1 13 1 -10 1 9 1 -4 1 0 1 14 1 -18 1 31 1 -4 1 -8 1 -7 1 -19 1 32 1 -27 1 -8 1 -8 1 1 1 3 1 -4 1 10 1 -14 1 -5 1 13 1 -14 1 45 1 -51 1 11 1 -17 1 22 1 10 1 -19 1 -11 1 19 1 -2 1 6 1 -16 1 2 1 -1 1 2 1 5 1 15 1 -9 1 -9 1 -11 1 30 1 -8 1 8 1 -43 1 54 1 -36 1 -1 1 4 1 2 1 38 1 -56 1 38 1 0 1 -2 1 -4 1 3 1 -19 1 1 1 1 1 -12 1 29 1 -11 1 5 1 12 1 -1 1 -1 1 -33 1 0 1 29 1 -27 1 14 1 2 1 -6 1 9 1 9 1 5 1 -20 1 -10 1 13 1 -10 1 -12 1 27 1 9 1 -10 1 4 1 7 1 -6 1 -34 1 13 1 4 1 26 1 -30 1 12 1 -27 1 16 1 3 1 0 1 17 1 -16 1 24 1 -13 1 -4 1 -9 1 30 1 -16 1 17 1 8 1 -27 1 8 1 7 1 -14 1 -18 1 29 1 -17 1 -7 1 6 1 22 1 -26 1 5 1 -6 1 25 1 -5 1 10 1 -7 1 -4 1 10 1 -4 1 -9 1 6 1 13 1 -14 1 -26 1 -5 1 13 1 23 1 -7 1 4 1 -10 1 -1 1 -4 1 4 1 1 1 -1 1 -11 1 -3 1 30 1 -13 1 3 1 -11 1 7 1 11 1 -15 1 -6 1 16 1 1 1 -21 1 3 1 26 1 -24 1 0 1 0 1 13 1 -3 1 11 1 -22 1 6 1 9 1 -1 1 -10 1 8 1 -19 1 16 1 -5 1 27 1 -15 1 -1 1 -27 1 24 1 13 1 7 1 -25 1 38 1 5 1 -36 1 23 1 -25 1 17 1 0 1 8 1 -8 1 -8 1 5 1 7 1 -14" fill="none" stroke="#008000" stroke-width="1" vector-effect="non-scaling-stroke" stroke-linejoin="round"/>
<path transform="matrix(0.10918 0 0 -0.21375 99.795 359.5)" d="M0 1083l1 -35 1 -12 1 -5 1 29 1 32 1 -25 1 10 1 10 1 -39 1 54 1 -55 1 25 1 29 1 -39 1 4 1 -13 1 17 1 -44 1 23 1 49 1 -32 1 -9 1 12 1 0 1 -6 1 9 1 -45 1 44 1 -25 1 28 1 -16 1 -20 1 18 1 -19 1 40 1 -22 1 18 1 -39 1 54 1 -39 1 33 1 -11 1 -39 1 28 1 -18 1 19 1 19 1 -15 1 22 1 -59 1 26 1 3 1 13 1 -33 1 22 1 -3 1 -39 1 9 1 28 1 -32 1 -1 1 40 1 -13 1 -10 1 6 1 -20 1 6 1 1 1 15 1 17 1 -34 1 6 1 -8 1 -15 1 27 1 11 1 -32 1 30 1 -27 1 32 1 0 1 -30 1 -30 1 29 1 -19 1 1 1 18 1 29 1 -27 1 -2 1 -31 1 23 1 -15 1 34 1 -19 1 8 1 0 1 -3 1 20 1 -9 1 -15 1 9 1 6 1 44 1 -52 1 23 1 -37 1 7 1 -23 1 41 1 -34 1 0 1 33 1 -25 1 -4 1 30 1 -20 1 19 1 -24 1 20 1 6 1 -18 1 30 1 -39 1 -2 1 10 1 16 1 -29 1 3 1 12 1 43 1 -56 1 -15 1 20 1 13 1 -21 1 12 1 -35 1 32 1 1 1 22 1 -12 1 1 1 -31 1 29 1 -40 1 18 1 29 1 -5 1 -47 1 42 1 -18 1 -6 1 17 1 -2 1 21 1 -48 1 17 1 5 1 -30 1 51 1 41 1 -72 1 17 1 -11 1 9 1 -16 1 25 1 -34 1 42 1 -17 1 34 1 -68 1 25 1 -20 1 19 1 10 1 -23 1 -9 1 -6 1 33 1 17 1 -2 1 -19 1 -36 1 29 1 -20 1 -1 1 43 1 -22 1 9 1 -10 1 53 1 3 1 -65 1 7 1 -6 1 32 1 -1 1 -25 1 41 1 -37 1 -21 1 -13 1 30 1 7 1 -15 1 15 1 13 1 -20 1 14 1 13 1 -19 1 -18 1 24 1 4 1 15 1 -42 1 -18 1 29 1 6 1 -18 1 15 1 -4 1 14 1 -33 1 2 1 10 1 -8 1 28 1 -11 1 -10 1 24 1 -17 1 8 1 -4 1 -15 1 0 1 2 1 -17 1 11 1 18 1 -9 1 -19 1 50 1 -52 1 25 1 1 1 8 1 -33 1 14 1 -4 1 20 1 -12 1 0 1 2 1 21 1 -19 1 2 1 -27 1 24 1 -29 1 33 1 -13 1 -15 1 -4 1 15 1 3 1 -19 1 12 1 0 1 -3 1 5 1 6 1 15 1 -10 1 -18 1 33 1 -7 1 -24 1 21 1 -23 1 -3 1 0 1 34 1 -22 1 3 1 -4 1 -7 1 13 1 3 1 18 1 -41 1 35 1 -13 1 -35 1 39 1 9 1 -8 1 -12 1 -2 1 -31 1 33 1 4 1 -22 1 22 1 -18 1 41 1 -50 1 5 1 -19 1 25 1 7 1 1 1 -12 1 22 1 -10 1 14 1 -19 1 -24 1 23 1 -13 1 26 1 -20 1 5 1 3 1 -22 1 16 1 18 1 -21 1 6 1 4 1 -12 1 5 1 11 1 -12 1 6 1 -3 1 -13 1 -4 1 46 1 -8 1 -21 1 14 1 2 1 -2 1 -18 1 -15 1 -19 1 35 1 22 1 3 1 -29 1 2 1 22 1 33 1 -63 1 19 1 -5 1 -6 1 -5 1 5 1 4 1 -21 1 21 1 11 1 -1 1 1 1 -7 1 -2 1 24 1 -29 1 4 1 15 1 -16 1 -19 1 10 1 2 1 3 1 -4 1 20 1 -4 1 -3 1 -12 1 19 1 0 1 16 1 -38 1 6 1 21 1 -34 1 18 1 4 1 -5 1 -15 1 13 1 -21 1 57 1 -51 1 16 1 -2 1 3 1 -1 1 4 1 -11 1 5 1 -15 1 1 1 2 1 -2 1 -5 1 10 1 17 1 -3 1 -11 1 10 1 1 1 31 1 -58 1 25 1 -42 1 56 1 -20 1 10 1 -4 1 7 1 -49 1 24 1 20 1 -43 1 47 1 10 1 -34 1 12 1 15 1 16 1 -10 1 -4 1 -22 1 13 1 2 1 -10 1 15 1 -10 1 -2 1 37 1 -32 1 29 1 -31 1 4 1 -16 1 10 1 31 1 -22 1 -29 1 49 1 -33 1 7 1 5 1 -26 1 49 1 -4 1 -29 1 15 1 -9 1 -5 1 5 1 -18 1 14 1 -2 1 34 1 -48 1 38 1 -9 1 -8 1 -11 1 33 1 19 1 -46 1 -2 1 4 1 22 1 -38 1 15 1 12 1 -34 1 17 1 16 1 -22 1 2 1 -17 1 25 1 -21 1 10 1 10 1 -13 1 19 1 9 1 -15 1 7 1 -16 1 -26 1 39 1 -1 1 -17 1 -5 1 26 1 -21 1 1 1 -1 1 36 1 -40 1 -24 1 31 1 -12 1 -9 1 24 1 -9 1 18 1 -16 1 36 1 -19 1 -13 1 10 1 13 1 -15 1 -27 1 19 1 2 1 13 1 -18 1 16 1 -16 1 2 1 -3 1 3 1 -2 1 6 1 -14 1 -4 1 12 1 3 1 -7 1 10 1 -1 1 17 1 -40 1 43 1 -55 1 7 1 26 1 -16 1 9 1 -2 1 -12 1 0 1 12 1 9 1 3 1 -5 1 -7 1 19 1 -42 1 27 1 16 1 4 1 -5 1 2 1 -4 1 -12 1 -29 1 21 1 3 1 23 1 -34 1 10 1 13 1 -21 1 13 1 6 1 -11 1 3 1 -21 1 6 1 13 1 17 1 -22 1 -4 1 1 1 18 1 -26 1 20 1 -6 1 5 1 -10 1 10 1 16 1 -21 1 -2 1 -26 1 37 1 -14 1 13 1 -3 1 -12 1 2 1 -8 1 41 1 -13 1 -2 1 20 1 -13 1 -6 1 2 1 18 1 -52 1 24 1 -11 1 9 1 -32 1 18 1 23 1 -25 1 22 1 -17 1 8 1 -16 1 11 1 -11 1 25 1 -28 1 25 1 -11 1 5 1 20 1 -21 1 -4 1 8 1 8 1 -15 1 27 1 -18 1 -7 1 -3 1 6 1 9 1 6 1 -12 1 -8 1 6 1 -43 1 58 1 -4 1 -12 1 11 1 -21 1 35 1 -24 1 -3 1 32 1 -37 1 17 1 -15 1 4 1 3 1 -3 1 25 1 -5 1 -20 1 37 1 -30 1 -2 1 7 1 -17 1 29 1 -28 1 -4 1 28 1 -24 1 8 1 -12 1 10 1 6 1 -31 1 29 1 -9 1 27 1 8 1 -19 1 1 1 6 1 0 1 -50 1 20 1 11 1 -12 1 13 1 6 1 -11 1 15 1 13 1 -18 1 5 1 -6 1 0 1 -6 1 -7 1 21 1 23 1 -31 1 2 1 -18 1 14 1 7 1 -5 1 2 1 -28 1 12 1 12 1 22 1 -23 1 -14 1 11 1 2 1 21 1 -1 1 -24 1 -2 1 9 1 3 1 -12 1 25 1 -18 1 9 1 -6 1 9 1 -8 1 5 1 13 1 -13 1 16 1 -35 1 14 1 -11 1 -4 1 17 1 25 1 -21 1 25 1 -74 1 50 1 -18 1 18 1 10 1 -19 1 20 1 -24 1 12 1 -9 1 9 1 -3 1 -26 1 24 1 -2 1 28 1 -54 1 34 1 10 1 14 1 -7 1 -18 1 20 1 -20 1 -1 1 -2 1 0 1 25 1 -41 1 1 1 33 1 -6 1 6 1 -15 1 12 1 -12 1 -3 1 1 1 8 1 -1 1 -6 1 27 1 -15 1 -11 1 -12 1 17 1 -21 1 10 1 -4 1 4 1 14 1 -46 1 64 1 -13 1 -12 1 -3 1 19 1 -11 1 25 1 -26 1 -10 1 -7 1 19 1 15 1 -31 1 35 1 -6 1 -15 1 22 1 -42 1 -6 1 34 1 3 1 -1 1 -6 1 -19 1 28 1 -13 1 18 1 -9 1 -19 1 25 1 3 1 0 1 -21 1 -5 1 26 1 -12 1 0 1 16 1 1 1 -4 1 -14 1 24 1 -36 1 15 1 5 1 -24 1 10 1 23 1 -14 1 -14 1 40 1 -21 1 -1 1 25 1 -48 1 14 1 -5 1 33 1 -31 1 46 1 -27 1 -2 1 10 1 -17 1 -30 1 25 1 10 1 -15 1 17 1 -11 1 7 1 -3 1 30 1 12 1 -6 1 -29 1 -7 1 27 1 5 1 -5 1 -23 1 15 1 -8 1 20 1 -1 1 -10 1 -17 1 42 1 -24 1 11 1 -4 1 4 1 7 1 -23 1 -1 1 17 1 -60 1 50 1 -6 1 34 1 -21 1 -8 1 -15 1 16 1 -2 1 6 1 2 1 -15 1 20 1 -17 1 15 1 -3 1 15 1 -20 1 25 1 -31 1 -8 1 23 1 -29 1 25 1 -1 1 -3 1 3 1 -3 1 16 1 -22 1 -28 1 24 1 18 1 2 1 -5 1 -10 1 -15 1 38 1 -33 1 -8 1 -21 1 67 1 -30 1 -28 1 41 1 -3 1 -36 1 37 1 -11 1 10 1 10 1 -27 1 40 1 -35 1 -8 1 27 1 -28 1 5 1 18 1 -26 1 -8 1 25 1 -4 1 -9 1 23 1 -33 1 30 1 -28 1 24 1 -26 1 29 1 -11 1 -6 1 8 1 -4 1 15 1 -22 1 16 1 -11 1 -5 1 2 1 -9 1 22 1 -3 1 4 1 -30 1 6 1 42 1 -4 1 -21 1 -1 1 6 1 14 1 7 1 -18 1 0 1 -4 1 6 1 22 1 -37 1 20 1 -27 1 1 1 -9 1 17 1 33 1 3 1 0 1 -26 1 18 1 -33 1 -5 1 9 1 11 1 -25 1 16 1 41 1 -30 1 -3 1 -3 1 23 1 -1 1 -8 1 -4 1 -31 1 12 1 18 1 -2 1 5 1 -2 1 39 1 -10 1 -36 1 33 1 -5 1 -6 1 -2 1 12 1 27 1 -39 1 8 1 2 1 -25 1 27 1 -8 1 22 1 4 1 29 1 -35 1 2 1 21 1 27 1 -31 1 9 1 5 1 2 1 -17 1 -2 1 6 1 9 1 22 1 -24 1 -17 1 43 1 1 1 9 1 -24 1 72 1 -41 1 4 1 -9 1 34 1 18 1 -19 1 4 1 1 1 58 1 -27 1 -19 1 20 1 27 1 -16 1 10 1 2 1 -13 1 35 1 33 1 -13 1 -25 1 -9 1 26 1 -8 1 -26 1 69 1 2 1 20 1 -12 1 -19 1 41 1 -11 1 32 1 -63 1 21 1 14 1 46 1 -29 1 -43 1 8 1 43 1 -59 1 26 1 16 1 -7 1 18 1 14 1 -16 1 -45 1 72 1 -9 1 -55 1 12 1 -31 1 74 1 -54 1 33 1 -12 1 37 1 -53 1 -16 1 23 1 7 1 -44 1 10 1 -42 1 75 1 -57 1 40 1 -5 1 -5 1 2 1 -48 1 24 1 -25 1 13 1 -18 1 67 1 -44 1 18 1 -43 1 62 1 -52 1 0 1 -4 1 -79 1 34 1 56 1 -33 1 21 1 56 1 -59 1 59 1 -45 1 -36 1 41 1 12 1 -10 1 -38 1 -44 1 79 1 69 1 -52 1 -56 1 1 1 17 1 8 1 -20 1 -4 1 -14 1 -68 1 30 1 27 1 -44 1 78 1 -70 1 28 1 1 1 -1 1 -56 1 17 1 32 1 -36 1 11 1 -101 1 82 1 -10 1 -10 1 -38 1 17 1 5 1 -6 1 -18 1 39 1 -7 1 -28 1 31 1 -53 1 25 1 21 1 -22 1 -16 1 9 1 -13 1 -10 1 -7 1 12 1 -5 1 6 1 -21 1 17 1 9 1 -27 1 35 1 -40 1 -16 1 15 1 -11 1 -7 1 -18 1 37 1 -10 1 36 1 -28 1 -4 1 -3 1 15 1 -5 1 2 1 7 1 11 1 -39 1 25 1 -11 1 8 1 -18 1 30 1 -12 1 -5 1 -17 1 22 1 -26 1 -9 1 35 1 -14 1 -22 1 0 1 23 1 15 1 -19 1 -23 1 10 1 -4 1 18 1 -10 1 21 1 -20 1 26 1 -19 1 3 1 -2 1 0 1 55 1 -64 1 3 1 4 1 13 1 -24 1 36 1 -36 1 6 1 10 1 1 1 -17 1 27 1 43 1 -56 1 11 1 0 1 28 1 -35 1 3 1 -10 1 9 1 -9 1 -1 1 2 1 17 1 -18 1 17 1 -14 1 20 1 -36 1 1 1 27 1 13 1 -29 1 -24 1 48 1 -9 1 -18 1 32 1 0 1 -30 1 4 1 16 1 1 1 11 1 -3 1 13 1 -36 1 -8 1 5 1 -2 1 8 1 -8 1 26 1 6 1 8 1 -33 1 -11 1 14 1 8 1 -8 1 16 1 1 1 -1 1 -19 1 29 1 -27 1 -24 1 38 1 22 1 -21 1 -22 1 22 1 27 1 -15 1 -3 1 -17 1 22 1 -28 1 60 1 -18 1 12 1 -40 1 32 1 19 1 20 1 -3 1 -35 1 74 1 -63 1 12 1 5 1 -11 1 21 1 -1 1 11 1 1 1 16 1 38 1 -34 1 -3 1 47 1 -6 1 26 1 -29 1 28 1 -8 1 -3 1 30 1 19 1 21 1 -29 1 62 1 19 1 -9 1 -10 1 -1 1 62 1 -40 1 71 1 -74 1 9 1 70 1 -42 1 77 1 -36 1 5 1 33 1 30 1 -3 1 -28 1 -23 1 60 1 -49 1 -5 1 0 1 93 1 -22 1 -34 1 -31 1 21 1 -73 1 35 1 28 1 -31 1 -49 1 22 1 -13 1 35 1 0 1 -56 1 38 1 -77 1 34 1 -30 1 -25 1 -36 1 30 1 15 1 -89 1 33 1 10 1 -51 1 -8 1 41 1 -47 1 -12 1 10 1 -11 1 -1 1 -8 1 11 1 -29 1 4 1 -40 1 14 1 -20 1 32 1 -27 1 12 1 -31 1 -17 1 26 1 -21 1 -55 1 45 1 -11 1 33 1 -28 1 11 1 -6 1 9 1 -15 1 -2 1 -4 1 -29 1 19 1 -21 1 -2 1 18 1 -30 1 21 1 17 1 -18 1 11 1 -29 1 14 1 -39 1 21 1 5 1 34 1 2 1 -57 1 21 1 -6 1 33 1 -12 1 -17 1 15 1 5 1 -27 1 23 1 -7 1 2 1 -34 1 22 1 -32 1 36 1 -16 1 29 1 1 1 -43 1 43 1 -27 1 19 1 -11 1 -8 1 1 1 -4 1 25 1 -18 1 -15 1 22 1 -24 1 28 1 -25 1 19 1 -21 1 1 1 14 1 7 1 -10 1 -3 1 34 1 -35 1 -33 1 41 1 -16 1 -12 1 32 1 -3 1 -16 1 -2 1 5 1 28 1 -40 1 28 1 -11 1 -1 1 13 1 -23 1 11 1 -8 1 -37 1 34 1 2 1 -3 1 16 1 -21 1 11 1 -2 1 1 1 -49 1 37 1 0 1 24 1 -29 1 17 1 -5 1 -19 1 3 1 16 1 5 1 10 1 -22 1 -12 1 14 1 -15 1 32 1 -20 1 0 1 25 1 -17 1 -20 1 20 1 -13 1 -7 1 5 1 -7 1 23 1 -17 1 6 1 16 1 -14 1 -3 1 7 1 -9 1 8 1 -3 1 12 1 -14 1 -6 1 5 1 -37 1 36 1 15 1 14 1 -19 1 10 1 -36 1 38 1 -11 1 9 1 -20 1 11 1 -2 1 -8 1 3 1 19 1 -35 1 14 1 9 1 11 1 -29 1 -23 1 12 1 27 1 -6 1 2 1 -1 1 -19 1 32 1 -1 1 -26 1 -5 1 9 1 2 1 30 1 -10 1 -23 1 35 1 -12 1 -9 1 -11 1 1 1 6 1 36 1 -46 1 4 1 19 1 -9 1 -11 1 41 1 -34 1 -5 1 5 1 9 1 1 1 4 1 -8 1 -8 1 21 1 -18 1 -5 1 15 1 6 1 -19 1 -7 1 10 1 -7 1 5 1 13 1 -1 1 -36 1 45 1 -1 1 -29 1 30 1 -32 1 32 1 -23 1 13 1 -4 1 5 1 -22 1 33 1 -9 1 -6 1 30 1 -33 1 25 1 -8 1 27 1 -52 1 12 1 -24 1 24 1 -12 1 0 1 20 1 -12 1 14 1 -26 1 4 1 13 1 -30 1 13 1 13 1 -23 1 28 1 -18 1 22 1 -17 1 26 1 -39 1 36 1 -33 1 35 1 -17 1 -22 1 31 1 -14 1 5 1 1 1 11 1 -22 1 20 1 -20 1 6 1 13 1 10 1 -15 1 -3 1 9 1 1 1 -17 1 48 1 -42 1 -10 1 15 1 6 1 -6 1 -6 1 7 1 7 1 -14 1 -3 1 13 1 0 1 -16 1 45 1 -18 1 9 1 -7 1 -32 1 45 1 -46 1 8 1 16 1 -11 1 17 1 2 1 -12 1 47 1 -65 1 27 1 3 1 15 1 -13 1 -32 1 29 1 -12 1 7 1 4 1 10 1 -21 1 12 1 8 1 12 1 -14 1 -31 1 25 1 9 1 -19 1 11 1 -10 1 14 1 -5 1 -15 1 18 1 0 1 -23 1 14 1 -1 1 -12 1 30 1 -23 1 11 1 -50 1 47 1 -16 1 23 1 -8 1 16 1 10 1 -46 1 25 1 -3 1 -5 1 -3 1 10 1 9 1 1 1 7 1 -15 1 15 1 -4 1 5 1 0 1 -4 1 4 1 -21 1 -19 1 11 1 24 1 -6 1 -7 1 26 1 -8 1 13 1 -38 1 9 1 13 1 7 1 8 1 -14 1 16 1 -3 1 -15 1 18 1 -14 1 2 1 -22 1 4 1 1 1 15 1 -20 1 -10 1 24 1 40 1 -35 1 -33 1 26 1 14 1 8 1 -9 1 21 1 -14 1 -25 1 32 1 -26 1 27 1 -14 1 -57 1 26 1 27 1 6 1 15 1 -7 1 14 1 -11 1 -9 1 -17 1 38 1 -4 1 -1 1 -27 1 30 1 -46 1 38 1 -7 1 0 1 -46 1 103 1 -73 1 4 1 -2 1 6 1 -20 1 42 1 -14 1 9 1 -30 1 32 1 -5 1 24 1 -34 1 -21 1 35 1 5 1 14 1 -6 1 -26 1 16 1 -19 1 29 1 36 1 -62 1 -6 1 0 1 19 1 13 1 -12 1 -26 1 35 1 7 1 14 1 -15 1 -36 1 44 1 -23 1 -17 1 22 1 4 1 4 1 -20 1 7 1 8 1 6 1 2 1 -30 1 40 1 -42 1 30 1 -7 1 -48 1 34 1 12 1 6 1 -9 1 11 1 -10 1 -4 1 20 1 49 1 -72 1 2 1 14 1 -22 1 27 1 -15 1 32 1 -49 1 21 1 -18 1 24 1 -17 1 -8 1 10 1 8 1 21 1 -9 1 57 1 -8 1 28 1 33 1 50 1 104 1 -25 1 76 1 43 1 21 1 -47 1 -72 1 19 1 -57 1 -46 1 -43 1 -101 1 34 1 -55 1 -4 1 15 1 -24 1 -39 1 10 1 17 1 -11 1 -18 1 -21 1 6 1 6 1 7 1 14 1 -3 1 -42 1 17 1 -6 1 -10 1 29 1 -9 1 -15 1 37 1 -32 1 -6 1 8 1 33 1 -15 1 -20 1 13 1 -17 1 26 1 -8 1 -37 1 35 1 14 1 -37 1 21 1 -7 1 13 1 -27 1 34 1 -17 1 24 1 -8 1 -16 1 -11 1 7 1 28 1 -4 1 -9 1 2 1 -8 1 -7 1 5 1 -1 1 -5 1 14 1 27 1 -56 1 35 1 -7 1 -17 1 28 1 22 1 -52 1 23 1 -19 1 34 1 2 1 -15 1 -4 1 16 1 3 1 -29 1 -36 1 49 1 17 1 -15 1 29 1 -25 1 -5 1 12 1 -24 1 7 1 9 1 -3 1 37 1 10 1 -29 1 -9 1 25 1 4 1 -23 1 -16 1 30 1 -8 1 -2 1 9 1 19 1 -18 1 4 1 -5 1 -1 1 -2 1 33 1 -7 1 -16 1 16 1 17 1 8 1 -6 1 7 1 11 1 -20 1 -9 1 77 1 -23 1 23 1 -44 1 32 1 35 1 12 1 -18 1 24 1 -11 1 -46 1 30 1 2 1 30 1 54 1 -25 1 70 1 -9 1 4 1 -35 1 33 1 39 1 -33 1 62 1 22 1 -5 1 -59 1 79 1 -34 1 99 1 -55 1 15 1 32 1 -9 1 60 1 -8 1 61 1 -104 1 63 1 17 1 -11 1 -33 1 5 1 61 1 -70 1 -6 1 17 1 52 1 7 1 -26 1 49 1 -55 1 -1 1 -62 1 10 1 42 1 -29 1 -1 1 2 1 -104 1 66 1 -10 1 -32 1 -8 1 -58 1 41 1 -16 1 -22 1 3 1 8 1 -49 1 -29 1 2 1 21 1 -25 1 -34 1 -9 1 -1 1 -48 1 -3 1 24 1 -12 1 -28 1 0 1 -12 1 27 1 -41 1 1 1 -15 1 -53 1 1 1 25 1 60 1 -68 1 28 1 -22 1 19 1 -42 1 -18 1 -18 1 61 1 -14 1 -58 1 42 1 -39 1 29 1 -13 1 14 1 22 1 -25 1 0 1 -4 1 -10 1 -2 1 18 1 36 1 -30 1 -24 1 9 1 2 1 -10 1 -18 1 22 1 -32 1 28 1 -24 1 -2 1 11 1 -11 1 12 1 4 1 -8 1 7 1 13 1 -18 1 -6 1 10 1 -1 1 -27 1 18 1 -14 1 35 1 -36 1 7 1 9 1 -36 1 6 1 18 1 4 1 -17 1 20 1 11 1 -5 1 15 1 -13 1 -13 1 22 1 -3 1 -28 1 1 1 18 1 0 1 14 1 -17 1 11 1 2 1 -13 1 7 1 -30 1 6 1 13 1 -5 1 2 1 4 1 -21 1 34 1 -10 1 4 1 -37 1 11 1 -10 1 -10 1 35 1 2 1 9 1 -25 1 23 1 -38 1 32 1 7 1 -29 1 9 1 12 1 1 1 -24 1 -7 1 5 1 31 1 -6 1 -6 1 7 1 0 1 -7 1 15 1 -45 1 7 1 3 1 19 1 -31 1 50 1 -2 1 25 1 -70 1 31 1 -6 1 17 1 -21 1 6 1 -22 1 32 1 9 1 -19 1 -31 1 21 1 -7 1 23 1 -7 1 15 1 1 1 4 1 16 1 -25 1 45 1 -12 1 5 1 52 1 15 1 31 1 34 1 -32 1 32 1 -53 1 17 1 -28 1 -32 1 -32 1 17 1 -52 1 7 1 23 1 -10 1 -22 1 -17 1 23 1 -27 1 3 1 15 1 -51 1 7 1 -5 1 5 1 3 1 9 1 14 1 -14 1 -6 1 16 1 -21 1 27 1 -9 1 11 1 -12 1 -3 1 4 1 -1 1 2 1 -5 1 8 1 -21 1 24 1 -21 1 31 1 -35 1 9 1 26 1 -13 1 -23 1 22 1 -13 1 -12 1 31 1 -16 1 22 1 -27 1 4 1 11 1 -21 1 7 1 -22 1 33 1 5 1 -3 1 -12 1 -15 1 53 1 -47 1 6 1 20 1 -11 1 0 1 18 1 -29 1 13 1 -24 1 11 1 0 1 3 1 2 1 -23 1 9 1 17 1 -23 1 28 1 3 1 -34 1 2 1 37 1 -10 1 -20 1 -6 1 10 1 7 1 -17 1 30 1 -26 1 2 1 10 1 8 1 -10 1 2 1 15 1 -17 1 -1 1 12 1 -4 1 -7 1 -6 1 13 1 0 1 2 1 -15 1 -11 1 3 1 40 1 -31 1 -3 1 3 1 -11 1 5 1 19 1 3 1 -22 1 9 1 -2 1 7 1 -7 1 0 1 -2 1 -1 1 -6 1 16 1 4 1 -25 1 25 1 -17 1 18 1 -4 1 -33 1 8 1 21 1 4 1 -3 1 -11 1 13 1 -30 1 37 1 -6 1 -10 1 14 1 -23 1 20 1 2 1 -9 1 9 1 -12 1 26 1 -47 1 25 1 7 1 5 1 9 1 -19 1 -7 1 9 1 -7 1 7 1 -8 1 -14 1 51 1 -57 1 35 1 3 1 -14 1 17 1 -28 1 6 1 10 1 10 1 -20 1 -17 1 31 1 3 1 -22 1 26 1 9 1 -12 1 3 1 5 1 -25 1 16 1 -14 1 11 1 -2 1 -5 1 -11 1 3 1 -8 1 8 1 4 1 21 1 -6 1 6 1 -23 1 2 1 7 1 15 1 -54 1 31 1 22 1 -13 1 17 1 -7 1 -13 1 2 1 0 1 4 1 18 1 -15 1 -1 1 20 1 -9 1 21 1 -15 1 -12 1 21 1 -14 1 11 1 1 1 17 1 2 1 -15 1 12 1 -20 1 3 1 17 1 3 1 -18 1 24 1 -9 1 24 1 -31 1 35 1 -13 1 -13 1 17 1 -8 1 -16 1 -1 1 36 1 -18 1 13 1 9 1 -31 1 -5 1 -20 1 25 1 -21 1 -9 1 16 1 12 1 -6 1 -34 1 51 1 4 1 -32 1 10 1 -22 1 9 1 5 1 -11 1 14 1 -26 1 10 1 -2 1 -19 1 2 1 -4 1 34 1 -16 1 -21 1 11 1 -22 1 44 1 -35 1 34 1 -23 1 11 1 -13 1 -18 1 38 1 -5 1 -2 1 1 1 7 1 -27 1 5 1 12 1 -18 1 5 1 -24 1 42 1 -21 1 21 1 3 1 -9 1 -10 1 14 1 -26 1 27 1 -30 1 30 1 -11 1 -2 1 10 1 1 1 -10 1 3 1 -25 1 32 1 -17 1 17 1 -11 1 13 1 -20 1 0 1 14 1 -11 1 -5 1 15 1 -17 1 2 1 12 1 -3 1 -1 1 4 1 -14 1 14 1 -3 1 1 1 -3 1 -19 1 34 1 -34 1 16 1 8 1 18 1 -36 1 20 1 -3 1 3 1 -15 1 20 1 -18 1 3 1 2 1 9 1 -14 1 9 1 -1 1 -3 1 -13 1 17 1 5 1 -3 1 12 1 -14 1 14 1 -9 1 2 1 11 1 -15 1 -7 1 19 1 -5 1 -32 1 6 1 28 1 6 1 -13 1 15 1 -14 1 23 1 -43 1 41 1 1 1 -5 1 -17 1 18 1 -15 1 36 1 -36 1 30 1 -11 1 -15 1 35 1 31 1 -5 1 -27 1 12 1 7 1 15 1 -20 1 52 1 -58 1 5 1 -9 1 -5 1 2 1 -9 1 30 1 -61 1 48 1 -15 1 -11 1 10 1 -3 1 -29 1 -11 1 50 1 -24 1 -7 1 25 1 -37 1 -5 1 19 1 -12 1 -6 1 -7 1 10 1 -17 1 29 1 -44 1 18 1 4 1 -11 1 53 1 -48 1 17 1 -23 1 45 1 -26 1 5 1 -12 1 7 1 -17 1 7 1 8 1 -21 1 7 1 23 1 -5 1 -11 1 11 1 -9 1 13 1 -21 1 -10 1 9 1 25 1 -34 1 12 1 3 1 -12 1 14 1 -9 1 10 1 -9 1 14 1 -18 1 -33 1 63 1 13 1 -38 1 0 1 -8 1 29 1 -31 1 20 1 -3 1 -14 1 24 1 -30 1 19 1 -7 1 4 1 -24 1 17 1 9 1 -22 1 19 1 8 1 -2 1 -23 1 24 1 -24 1 20 1 -28 1 13 1 -30 1 54 1 -10 1 -22 1 2 1 19 1 -4 1 -7 1 3 1 3 1 -8 1 -14 1 9 1 14 1 9 1 -4 1 0 1 -11 1 -1 1 18 1 -42 1 20 1 21 1 -6 1 -28 1 1 1 -16 1 39 1 -11 1 11 1 -24 1 26 1 -24 1 18 1 19 1 -16 1 16 1 -32 1 3 1 -7 1 26 1 -20 1 13 1 13 1 -28 1 11 1 -16 1 21 1 -9 1 13 1 -1 1 3 1 -27 1 4 1 19 1 -4 1 -7 1 -5 1 -4 1 1 1 15 1 -14 1 9 1 -14 1 27 1 -11 1 -6 1 -2 1 -9 1 18 1 4 1 8 1 -16 1 -12 1 4 1 11 1 -11 1 -7 1 28 1 -20 1 -3 1 30 1 -30 1 16 1 2 1 -8 1 -4 1 0 1 5 1 -9 1 20 1 5 1 -40 1 30 1 -8 1 2 1 2 1 -5 1 4 1 -11 1 17 1 1 1 -4 1 6 1 -17 1 13 1 4 1 -17 1 8 1 -7 1 -1 1 23 1 -17 1 -6 1 5 1 3 1 26 1 -16 1 -17 1 8 1 -2 1 -5 1 2 1 -1 1 7 1 7 1 -33 1 15 1 2 1 12 1 -18 1 2 1 14 1 -16 1 -8 1 26 1 -13 1 10 1 -13 1 -7 1 -1 1 49 1 -14 1 -6 1 5 1 -21 1 5 1 -23 1 18 1 9 1 -8 1 23 1 -31 1 11 1 -9 1 3 1 -3 1 6 1 -17 1 25 1 -10 1 -7 1 -5 1 15 1 -6 1 4 1 -5 1 15 1 2 1 -28 1 32 1 -9 1 -6 1 7 1 -12 1 10 1 -6 1 12 1 -15 1 5 1 6 1 1 1 -22 1 31 1 -20 1 -2 1 8 1 -18 1 -13 1 23 1 -8 1 43 1 -31 1 0 1 3 1 5 1 0 1 -13 1 18 1 -1 1 9 1 -18 1 -1 1 -5 1 -7 1 8 1 -9 1 11 1 15 1 -3 1 5 1 -28 1 22 1 -5 1 -1 1 7 1 -7 1 0 1 -10 1 27 1 -21 1 11 1 -14 1 -2 1 13 1 -7 1 12 1 -8 1 5 1 6 1 -24 1 19 1 -28 1 15 1 1 1 -6 1 13 1 -5 1 -6 1 27 1 -19 1 1 1 -3 1 13 1 -3 1 -8 1 29 1 -12 1 -9 1 -22 1 22 1 -4 1 -3 1 -5 1 21 1 2 1 -16 1 -11 1 1 1 13 1 -8 1 7 1 12 1 0 1 -9 1 -13 1 23 1 -3 1 -15 1 13 1 7 1 12 1 -18 1 7 1 -11 1 8 1 -4 1 9 1 -23 1 14 1 -24 1 10 1 4 1 -1 1 9 1 5 1 7 1 -7 1 0 1 4 1 5 1 -15 1 29 1 -15 1 -13 1 -21 1 19 1 1 1 6 1 6 1 11 1 -32 1 11 1 7 1 6 1 -26 1 30 1 -22 1 -1 1 13 1 3 1 -5 1 2 1 -4 1 7 1 -15 1 6 1 3 1 -3 1 8 1 -16 1 0 1 19 1 -11 1 3 1 12 1 -5 1 -22 1 26 1 -28 1 20 1 -23 1 12 1 -1 1 7 1 0 1 -16 1 10 1 -2 1 7 1 -17 1 4 1 11 1 7 1 -30 1 32 1 -9 1 7 1 -19 1 2 1 17 1 -15 1 -9 1 15 1 26 1 -14 1 4 1 -16 1 -16 1 31 1 -13 1 -14 1 6 1 1 1 -8 1 15 1 2 1 1 1 2 1 -3 1 -20 1 9 1 13 1 -7 1 1 1 -8 1 13 1 -7 1 5 1 4 1 12 1 -11 1 -10 1 -10 1 34 1 -8 1 -29 1 20 1 9 1 -13 1 6 1 -10 1 19 1 -2 1 -17 1 13 1 -13 1 22 1 -39 1 41 1 -15 1 0 1 24 1 -10 1 2 1 1 1 -15 1 25 1 -13 1 21 1 11 1 -2 1 -16 1 -8 1 38 1 -25 1 17 1 -38 1 12 1 9 1 -16 1 18 1 -14 1 8 1 -24 1 27 1 -1 1 -9 1 -18 1 -12 1 7 1 7 1 -8 1 3 1 18 1 -24 1 -14 1 31 1 -8 1 11 1 -15 1 -1 1 2 1 -2 1 16 1 -36 1 8 1 -1 1 -8 1 36 1 -22 1 1 1 4 1 -29 1 22 1 4 1 -15 1 23 1 0 1 -6 1 -9 1 -12 1 -7 1 20 1 -2 1 10 1 -44 1 51 1 -29 1 -1 1 17 1 -16 1 19 1 -7 1 -14 1 -11 1 18 1 5 1 -14 1 14 1 -6 1 -3 1 13 1 -10 1 14 1 -43 1 15 1 19 1 3 1 7 1 -8 1 2 1 -6 1 -12 1 3 1 9 1 -8 1 -4 1 20 1 -20 1 9 1 -14 1 14 1 -6 1 -9 1 27 1 -18 1 1 1 3 1 6 1 -15 1 20 1 -13 1 -19 1 17 1 -19 1 17 1 -9 1 6 1 5 1 -5 1 16 1 -8 1 7 1 -29 1 16 1 -1 1 -7 1 11 1 6 1 -3 1 1 1 -5 1 -4 1 -5 1 6 1 -2 1 6 1 2 1 -3 1 8 1 -2 1 -11 1 1 1 14 1 -15 1 6 1 -4 1 11 1 -19 1 26 1 -16 1 -4 1 15 1 -11 1 1 1 -11 1 14 1 -3 1 -9 1 -2 1 2 1 21 1 -9 1 -12 1 -4 1 3 1 22 1 -7 1 -8 1 9 1 -17 1 16 1 3 1 -18 1 3 1 14 1 2 1 -19 1 -2 1 19 1 -9 1 4 1 0 1 18 1 -38 1 14 1 7 1 -2 1 -10 1 -1 1 27 1 -30 1 29 1 -17 1 -1 1 -7 1 16 1 -5 1 -1 1 -3 1 -9 1 7 1 -1 1 -4 1 9 1 -7 1 16 1 -14 1 4 1 4 1 0 1 -5 1 12 1 -1 1 -16 1 11 1 -1 1 -6 1 3 1 1 1 -1 1 -6 1 9 1 -5 1 17 1 -14 1 10 1 -18 1 9 1 -9 1 3 1 17 1 -5 1 -18 1 16 1 -13 1 10 1 6 1 -6 1 -5 1 15 1 -11 1 10 1 0 1 -3 1 -13 1 10 1 -7 1 9 1 -3 1 0 1 0 1 5 1 -3 1 5 1 -1 1 -8 1 -2 1 4 1 -4 1 9 1 -5 1 -10 1 1 1 23 1 -26 1 9 1 3 1 6 1 -20 1 10 1 1 1 19 1 -14 1 14 1 -20 1 -2 1 9 1 -3 1 -6 1 3 1 4 1 12 1 -7 1 -4 1 -15 1 18 1 -4 1 -5 1 3 1 11 1 13 1 -20 1 3 1 7 1 -18 1 15 1 -10 1 10 1 -7 1 -12 1 24 1 -25 1 -1 1 23 1 -15 1 20 1 -21 1 17 1 11 1 -3 1 -6 1 -8 1 10 1 -12 1 4 1 28 1 -31 1 20 1 -10 1 -17 1 23 1 -15 1 14 1 17 1 -39 1 39 1 -18 1 16 1 4 1 15 1 1 1 18 1 -7 1 -6 1 48 1 -12 1 -23 1 28 1 -11 1 -11 1 -31 1 3 1 17 1 -15 1 -3 1 -25 1 5 1 -8 1 12 1 12 1 -37 1 15 1 0 1 -6 1 -32 1 30 1 -4 1 22 1 -21 1 19 1 -9 1 -27 1 11 1 18 1 -9 1 -6 1 28 1 -35 1 16 1 12 1 -6 1 -28 1 20 1 9 1 11 1 -23 1 9 1 30 1 -25 1 -15 1 -2 1 36 1 -10 1 -32 1 22 1 -7 1 -6 1 20 1 -8 1 -9 1 20 1 -4 1 -16 1 8 1 16 1 -32 1 26 1 -9 1 -4 1 4 1 11 1 26 1 -23 1 0 1 -21 1 -7 1 26 1 -1 1 -9 1 8 1 6 1 0 1 -40 1 14 1 20 1 -10 1 12 1 -37 1 32 1 20 1 -30 1 4 1 -23 1 29 1 0 1 -7 1 -1 1 -3 1 -1 1 11 1 20 1 -32 1 6 1 -2 1 4 1 12 1 -4 1 -11 1 6 1 -5 1 -3 1 -3 1 21 1 -14 1 2 1 26 1 -53 1 40 1 -2 1 5 1 1 1 -10 1 11 1 -25 1 -4 1 -14 1 32 1 8 1 -2 1 -23 1 8 1 2 1 5 1 4 1 21 1 2 1 -25 1 29 1 -4 1 -8 1 -10 1 -20 1 44 1 -13 1 -33 1 21 1 -1 1 7 1 -47 1 32 1 6 1 -14 1 14 1 0 1 -5 1 17 1 -47 1 34 1 -7 1 41 1 -26 1 -20 1 23 1 -2 1 14 1 -14 1 15 1 -26 1 -6 1 19 1 -3 1 -21 1 11 1 20 1 -29 1 49 1 -49 1 38 1 -28 1 43 1 -20 1 -16 1 11 1 -5 1 -3 1 -1 1 -1 1 1 1 11 1 -4 1 -11 1 -29 1 39 1 1 1 -4 1 -2" fill="none" stroke="#0000ff" stroke-width="1" vector-effect="non-scaling-stroke" stroke-linejoin="round"/>
</g>
<g fill="none" stroke-width="1.25" opacity="0.85">
<path d="M148.8 143.4V165" stroke="#ED1C24"/>
<path d="M148.8 165V360.5" stroke="#ED1C24" stroke-dasharray="7 6"/>
<path d="M148.8 323.6V343.4" stroke="#ED1C24"/>
<path d="M148.8 288.3V298.8" stroke="#ED1C24"/>
<path d="M148.8 227.7V239.2" stroke="#ED1C24"/>
<path d="M198.5 138.0V160" stroke="#ED1C24"/>
<path d="M198.5 160V360.5" stroke="#ED1C24" stroke-dasharray="7 6"/>
<path d="M198.5 328.6V341.3" stroke="#ED1C24"/>
<path d="M198.5 284.4V297.7" stroke="#ED1C24"/>
<path d="M198.5 227.4V235.9" stroke="#ED1C24"/>
<path d="M220.5 70.9V123" stroke="#ED1C24"/>
<path d="M220.5 123V360.5" stroke="#ED1C24" stroke-dasharray="7 6"/>
<path d="M220.5 275.2V293.5" stroke="#ED1C24"/>
<path d="M220.5 212.9V240.0" stroke="#ED1C24"/>
<path d="M220.5 172.1V189.7" stroke="#ED1C24"/>
<path d="M253.2 46.3V328" stroke="#ED1C24"/>
<path d="M253.2 328V360.5" stroke="#ED1C24" stroke-dasharray="7 6"/>
<path d="M331.9 31.0V330" stroke="#ED1C24"/>
<path d="M331.9 330V360.5" stroke="#ED1C24" stroke-dasharray="7 6"/>
<path d="M379.6 141.8V174" stroke="#ED1C24"/>
<path d="M379.6 174V360.5" stroke="#ED1C24" stroke-dasharray="7 6"/>
<path d="M379.6 330.0V341.9" stroke="#ED1C24"/>
<path d="M379.6 287.7V306.5" stroke="#ED1C24"/>
<path d="M379.6 224.5V237.4" stroke="#ED1C24"/>
<path d="M397.4 141.8V171" stroke="#ED1C24"/>
<path d="M397.4 171V360.5" stroke="#ED1C24" stroke-dasharray="7 6"/>
<path d="M397.4 332.6V343.3" stroke="#ED1C24"/>
<path d="M397.4 289.7V300.6" stroke="#ED1C24"/>
<path d="M397.4 226.6V242.6" stroke="#ED1C24"/>
<path d="M453.2 146.4V179" stroke="#ED1C24"/>
<path d="M453.2 179V360.5" stroke="#ED1C24" stroke-dasharray="7 6"/>
<path d="M453.2 337.0V350.6" stroke="#ED1C24"/>
<path d="M453.2 291.5V302.8" stroke="#ED1C24"/>
<path d="M453.2 227.8V240.8" stroke="#ED1C24"/>
<path d="M353.5 117.8V166" stroke="#22B14C"/>
<path d="M353.5 166V360.5" stroke="#22B14C" stroke-dasharray="7 6"/>
<path d="M353.5 339.5V350.4" stroke="#22B14C"/>
<path d="M353.5 284.7V297.6" stroke="#22B14C"/>
<path d="M353.5 215.2V229.6" stroke="#22B14C"/>
<path d="M487.6 139.3V174" stroke="#22B14C"/>
<path d="M487.6 174V360.5" stroke="#22B14C" stroke-dasharray="7 6"/>
<path d="M487.6 340.0V353.2" stroke="#22B14C"/>
<path d="M487.6 296.2V308.0" stroke="#22B14C"/>
<path d="M487.6 228.2V239.3" stroke="#22B14C"/>
</g>
<g>
<rect x="145.2" y="133.9" width="9" height="9" fill="#ED1C24" stroke="#111" stroke-width="1.2"/>
<rect x="194.7" y="128.5" width="9" height="9" fill="#ED1C24" stroke="#111" stroke-width="1.2"/>
<rect x="216.0" y="61.4" width="9" height="9" fill="#ED1C24" stroke="#111" stroke-width="1.2"/>
<rect x="247.9" y="36.8" width="9" height="9" fill="#ED1C24" stroke="#111" stroke-width="1.2"/>
<rect x="328.1" y="21.5" width="9" height="9" fill="#ED1C24" stroke="#111" stroke-width="1.2"/>
<rect x="375.6" y="132.3" width="9" height="9" fill="#ED1C24" stroke="#111" stroke-width="1.2"/>
<rect x="393.3" y="132.3" width="9" height="9" fill="#ED1C24" stroke="#111" stroke-width="1.2"/>
<rect x="449.0" y="136.9" width="9" height="9" fill="#ED1C24" stroke="#111" stroke-width="1.2"/>
<rect x="307.0" y="50.9" width="9" height="9" fill="#22B14C" stroke="#111" stroke-width="1.2"/>
<rect x="348.7" y="108.3" width="9" height="9" fill="#22B14C" stroke="#111" stroke-width="1.2"/>
<rect x="483.0" y="129.8" width="9" height="9" fill="#22B14C" stroke="#111" stroke-width="1.2"/>
</g>
<rect x="72.5" y="17.5" width="464" height="342" fill="none" stroke="#222" stroke-width="1"/>
<path d="M65 359.5H72.5 M65 316.5H72.5 M65 274.5H72.5 M65 231.5H72.5 M65 188.5H72.5 M65 145.5H72.5 M65 103.5H72.5 M65 60.5H72.5 M65 17.5H72.5 M68.5 338.5H72.5 M68.5 295.5H72.5 M68.5 252.5H72.5 M68.5 209.5H72.5 M68.5 167.5H72.5 M68.5 124.5H72.5 M68.5 81.5H72.5 M68.5 38.5H72.5 M72.5 359.5V367 M127.5 359.5V367 M181.5 359.5V367 M236.5 359.5V367 M290.5 359.5V367 M345.5 359.5V367 M400.5 359.5V367 M454.5 359.5V367 M509.5 359.5V367 M99.5 359.5V363.5 M154.5 359.5V363.5 M208.5 359.5V363.5 M263.5 359.5V363.5 M318.5 359.5V363.5 M372.5 359.5V363.5 M427.5 359.5V363.5 M481.5 359.5V363.5 M536.5 359.5V363.5" stroke="#222" stroke-width="1" fill="none"/>
<g font-size="17">
<text x="60" y="364.7" text-anchor="end">0</text>
<text x="60" y="321.9" text-anchor="end">100</text>
<text x="60" y="279.2" text-anchor="end">200</text>
<text x="60" y="236.4" text-anchor="end">300</text>
<text x="60" y="193.7" text-anchor="end">400</text>
<text x="60" y="150.9" text-anchor="end">500</text>
<text x="60" y="108.2" text-anchor="end">600</text>
<text x="60" y="65.5" text-anchor="end">700</text>
<text x="60" y="22.7" text-anchor="end">800</text>
<text x="72.1" y="383.6" text-anchor="middle">0</text>
<text x="126.7" y="383.6" text-anchor="middle">10</text>
<text x="181.3" y="383.6" text-anchor="middle">20</text>
<text x="235.9" y="383.6" text-anchor="middle">30</text>
<text x="290.5" y="383.6" text-anchor="middle">40</text>
<text x="345.1" y="383.6" text-anchor="middle">50</text>
<text x="399.6" y="383.6" text-anchor="middle">60</text>
<text x="454.2" y="383.6" text-anchor="middle">70</text>
<text x="508.8" y="383.6" text-anchor="middle">80</text>
</g>
<text x="275" y="406" font-size="17.5">2θ <tspan dx="1">(</tspan><tspan font-size="13" dx="0.8" dy="-6">o</tspan><tspan dx="0.8" dy="6">)</tspan></text>
<text transform="translate(24 266.5) rotate(-90)" font-size="17">Intensity (a. u)</text>
<rect x="100.8" y="26.8" width="8.6" height="8.6" fill="none" stroke="#444" stroke-width="1.1"/>
<g font-size="14.2"><text x="114.6" y="34.7">In<tspan font-size="10.5" dy="1.2">2</tspan><tspan dy="-1.2">S</tspan><tspan font-size="10.5" dy="1.2">3</tspan></text></g>
<g stroke-width="2.2">
<path d="M388 34.5H406" stroke="#000"/>
<path d="M388 50.9H406" stroke="#a040a0"/>
<path d="M388 69.8H406" stroke="#008000"/>
<path d="M388 84.8H406" stroke="#0000ff"/>
</g>
<g font-size="14">
<text x="414.8" y="36.5">In<tspan font-size="10.5" dy="1.5">2</tspan><tspan dy="-1.5">S</tspan><tspan font-size="10.5" dy="1.5">3</tspan></text>
<text x="414.8" y="52.6">In<tspan font-size="10.5" dy="1.5">2</tspan><tspan dy="-1.5">S</tspan><tspan font-size="10.5" dy="1.5">3</tspan><tspan dy="-1.5"> doped 2% Ni</tspan></text>
<text x="413.8" y="69.6">In<tspan font-size="10.5" dy="1.5">2</tspan><tspan dy="-1.5">S</tspan><tspan font-size="10.5" dy="1.5">3</tspan><tspan dy="-1.5"> doped 4% Ni</tspan></text>
<text x="413.8" y="86.9">In<tspan font-size="10.5" dy="1.5">2</tspan><tspan dy="-1.5">S</tspan><tspan font-size="10.5" dy="1.5">3</tspan><tspan dy="-1.5"> doped 6% Ni</tspan></text>
</g>
</svg>
</body></html>
